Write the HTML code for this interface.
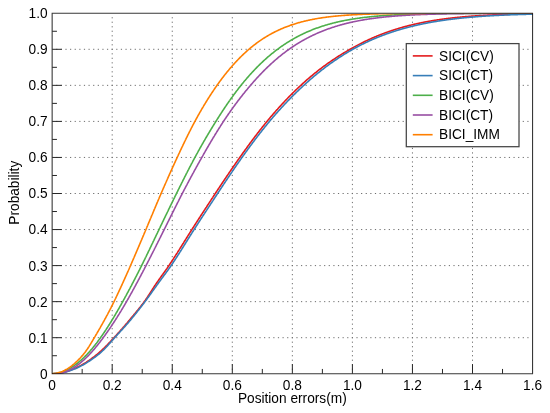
<!DOCTYPE html>
<html><head><meta charset="utf-8"><title>CDF of position errors</title><style>
html,body{margin:0;padding:0;background:#fff;width:550px;height:413px;overflow:hidden}
svg{display:block}
.t text{font-family:"Liberation Sans",Arial,Helvetica,sans-serif;font-size:13.7px;fill:#000}
</style></head><body>
<svg width="550" height="413" viewBox="0 0 550 413"><path d="M112.20 368.64v1.2M112.20 364.14v1.2M112.20 359.63v1.2M112.20 355.12v1.2M112.20 350.62v1.2M112.20 346.11v1.2M112.20 341.61v1.2M112.20 337.10v1.2M112.20 332.59v1.2M112.20 328.09v1.2M112.20 323.58v1.2M112.20 319.07v1.2M112.20 314.57v1.2M112.20 310.06v1.2M112.20 305.56v1.2M112.20 301.05v1.2M112.20 296.54v1.2M112.20 292.04v1.2M112.20 287.53v1.2M112.20 283.02v1.2M112.20 278.52v1.2M112.20 274.01v1.2M112.20 269.51v1.2M112.20 265.00v1.2M112.20 260.49v1.2M112.20 255.99v1.2M112.20 251.48v1.2M112.20 246.97v1.2M112.20 242.47v1.2M112.20 237.96v1.2M112.20 233.46v1.2M112.20 228.95v1.2M112.20 224.44v1.2M112.20 219.94v1.2M112.20 215.43v1.2M112.20 210.92v1.2M112.20 206.42v1.2M112.20 201.91v1.2M112.20 197.41v1.2M112.20 192.90v1.2M112.20 188.39v1.2M112.20 183.89v1.2M112.20 179.38v1.2M112.20 174.87v1.2M112.20 170.37v1.2M112.20 165.86v1.2M112.20 161.36v1.2M112.20 156.85v1.2M112.20 152.34v1.2M112.20 147.84v1.2M112.20 143.33v1.2M112.20 138.82v1.2M112.20 134.32v1.2M112.20 129.81v1.2M112.20 125.31v1.2M112.20 120.80v1.2M112.20 116.29v1.2M112.20 111.79v1.2M112.20 107.28v1.2M112.20 102.77v1.2M112.20 98.27v1.2M112.20 93.76v1.2M112.20 89.26v1.2M112.20 84.75v1.2M112.20 80.24v1.2M112.20 75.74v1.2M112.20 71.23v1.2M112.20 66.72v1.2M112.20 62.22v1.2M112.20 57.71v1.2M112.20 53.21v1.2M112.20 48.70v1.2M112.20 44.19v1.2M112.20 39.69v1.2M112.20 35.18v1.2M112.20 30.67v1.2M112.20 26.17v1.2M112.20 21.66v1.2M112.20 17.16v1.2M172.25 368.64v1.2M172.25 364.14v1.2M172.25 359.63v1.2M172.25 355.12v1.2M172.25 350.62v1.2M172.25 346.11v1.2M172.25 341.61v1.2M172.25 337.10v1.2M172.25 332.59v1.2M172.25 328.09v1.2M172.25 323.58v1.2M172.25 319.07v1.2M172.25 314.57v1.2M172.25 310.06v1.2M172.25 305.56v1.2M172.25 301.05v1.2M172.25 296.54v1.2M172.25 292.04v1.2M172.25 287.53v1.2M172.25 283.02v1.2M172.25 278.52v1.2M172.25 274.01v1.2M172.25 269.51v1.2M172.25 265.00v1.2M172.25 260.49v1.2M172.25 255.99v1.2M172.25 251.48v1.2M172.25 246.97v1.2M172.25 242.47v1.2M172.25 237.96v1.2M172.25 233.46v1.2M172.25 228.95v1.2M172.25 224.44v1.2M172.25 219.94v1.2M172.25 215.43v1.2M172.25 210.92v1.2M172.25 206.42v1.2M172.25 201.91v1.2M172.25 197.41v1.2M172.25 192.90v1.2M172.25 188.39v1.2M172.25 183.89v1.2M172.25 179.38v1.2M172.25 174.87v1.2M172.25 170.37v1.2M172.25 165.86v1.2M172.25 161.36v1.2M172.25 156.85v1.2M172.25 152.34v1.2M172.25 147.84v1.2M172.25 143.33v1.2M172.25 138.82v1.2M172.25 134.32v1.2M172.25 129.81v1.2M172.25 125.31v1.2M172.25 120.80v1.2M172.25 116.29v1.2M172.25 111.79v1.2M172.25 107.28v1.2M172.25 102.77v1.2M172.25 98.27v1.2M172.25 93.76v1.2M172.25 89.26v1.2M172.25 84.75v1.2M172.25 80.24v1.2M172.25 75.74v1.2M172.25 71.23v1.2M172.25 66.72v1.2M172.25 62.22v1.2M172.25 57.71v1.2M172.25 53.21v1.2M172.25 48.70v1.2M172.25 44.19v1.2M172.25 39.69v1.2M172.25 35.18v1.2M172.25 30.67v1.2M172.25 26.17v1.2M172.25 21.66v1.2M172.25 17.16v1.2M232.30 368.64v1.2M232.30 364.14v1.2M232.30 359.63v1.2M232.30 355.12v1.2M232.30 350.62v1.2M232.30 346.11v1.2M232.30 341.61v1.2M232.30 337.10v1.2M232.30 332.59v1.2M232.30 328.09v1.2M232.30 323.58v1.2M232.30 319.07v1.2M232.30 314.57v1.2M232.30 310.06v1.2M232.30 305.56v1.2M232.30 301.05v1.2M232.30 296.54v1.2M232.30 292.04v1.2M232.30 287.53v1.2M232.30 283.02v1.2M232.30 278.52v1.2M232.30 274.01v1.2M232.30 269.51v1.2M232.30 265.00v1.2M232.30 260.49v1.2M232.30 255.99v1.2M232.30 251.48v1.2M232.30 246.97v1.2M232.30 242.47v1.2M232.30 237.96v1.2M232.30 233.46v1.2M232.30 228.95v1.2M232.30 224.44v1.2M232.30 219.94v1.2M232.30 215.43v1.2M232.30 210.92v1.2M232.30 206.42v1.2M232.30 201.91v1.2M232.30 197.41v1.2M232.30 192.90v1.2M232.30 188.39v1.2M232.30 183.89v1.2M232.30 179.38v1.2M232.30 174.87v1.2M232.30 170.37v1.2M232.30 165.86v1.2M232.30 161.36v1.2M232.30 156.85v1.2M232.30 152.34v1.2M232.30 147.84v1.2M232.30 143.33v1.2M232.30 138.82v1.2M232.30 134.32v1.2M232.30 129.81v1.2M232.30 125.31v1.2M232.30 120.80v1.2M232.30 116.29v1.2M232.30 111.79v1.2M232.30 107.28v1.2M232.30 102.77v1.2M232.30 98.27v1.2M232.30 93.76v1.2M232.30 89.26v1.2M232.30 84.75v1.2M232.30 80.24v1.2M232.30 75.74v1.2M232.30 71.23v1.2M232.30 66.72v1.2M232.30 62.22v1.2M232.30 57.71v1.2M232.30 53.21v1.2M232.30 48.70v1.2M232.30 44.19v1.2M232.30 39.69v1.2M232.30 35.18v1.2M232.30 30.67v1.2M232.30 26.17v1.2M232.30 21.66v1.2M232.30 17.16v1.2M292.35 368.64v1.2M292.35 364.14v1.2M292.35 359.63v1.2M292.35 355.12v1.2M292.35 350.62v1.2M292.35 346.11v1.2M292.35 341.61v1.2M292.35 337.10v1.2M292.35 332.59v1.2M292.35 328.09v1.2M292.35 323.58v1.2M292.35 319.07v1.2M292.35 314.57v1.2M292.35 310.06v1.2M292.35 305.56v1.2M292.35 301.05v1.2M292.35 296.54v1.2M292.35 292.04v1.2M292.35 287.53v1.2M292.35 283.02v1.2M292.35 278.52v1.2M292.35 274.01v1.2M292.35 269.51v1.2M292.35 265.00v1.2M292.35 260.49v1.2M292.35 255.99v1.2M292.35 251.48v1.2M292.35 246.97v1.2M292.35 242.47v1.2M292.35 237.96v1.2M292.35 233.46v1.2M292.35 228.95v1.2M292.35 224.44v1.2M292.35 219.94v1.2M292.35 215.43v1.2M292.35 210.92v1.2M292.35 206.42v1.2M292.35 201.91v1.2M292.35 197.41v1.2M292.35 192.90v1.2M292.35 188.39v1.2M292.35 183.89v1.2M292.35 179.38v1.2M292.35 174.87v1.2M292.35 170.37v1.2M292.35 165.86v1.2M292.35 161.36v1.2M292.35 156.85v1.2M292.35 152.34v1.2M292.35 147.84v1.2M292.35 143.33v1.2M292.35 138.82v1.2M292.35 134.32v1.2M292.35 129.81v1.2M292.35 125.31v1.2M292.35 120.80v1.2M292.35 116.29v1.2M292.35 111.79v1.2M292.35 107.28v1.2M292.35 102.77v1.2M292.35 98.27v1.2M292.35 93.76v1.2M292.35 89.26v1.2M292.35 84.75v1.2M292.35 80.24v1.2M292.35 75.74v1.2M292.35 71.23v1.2M292.35 66.72v1.2M292.35 62.22v1.2M292.35 57.71v1.2M292.35 53.21v1.2M292.35 48.70v1.2M292.35 44.19v1.2M292.35 39.69v1.2M292.35 35.18v1.2M292.35 30.67v1.2M292.35 26.17v1.2M292.35 21.66v1.2M292.35 17.16v1.2M352.40 368.64v1.2M352.40 364.14v1.2M352.40 359.63v1.2M352.40 355.12v1.2M352.40 350.62v1.2M352.40 346.11v1.2M352.40 341.61v1.2M352.40 337.10v1.2M352.40 332.59v1.2M352.40 328.09v1.2M352.40 323.58v1.2M352.40 319.07v1.2M352.40 314.57v1.2M352.40 310.06v1.2M352.40 305.56v1.2M352.40 301.05v1.2M352.40 296.54v1.2M352.40 292.04v1.2M352.40 287.53v1.2M352.40 283.02v1.2M352.40 278.52v1.2M352.40 274.01v1.2M352.40 269.51v1.2M352.40 265.00v1.2M352.40 260.49v1.2M352.40 255.99v1.2M352.40 251.48v1.2M352.40 246.97v1.2M352.40 242.47v1.2M352.40 237.96v1.2M352.40 233.46v1.2M352.40 228.95v1.2M352.40 224.44v1.2M352.40 219.94v1.2M352.40 215.43v1.2M352.40 210.92v1.2M352.40 206.42v1.2M352.40 201.91v1.2M352.40 197.41v1.2M352.40 192.90v1.2M352.40 188.39v1.2M352.40 183.89v1.2M352.40 179.38v1.2M352.40 174.87v1.2M352.40 170.37v1.2M352.40 165.86v1.2M352.40 161.36v1.2M352.40 156.85v1.2M352.40 152.34v1.2M352.40 147.84v1.2M352.40 143.33v1.2M352.40 138.82v1.2M352.40 134.32v1.2M352.40 129.81v1.2M352.40 125.31v1.2M352.40 120.80v1.2M352.40 116.29v1.2M352.40 111.79v1.2M352.40 107.28v1.2M352.40 102.77v1.2M352.40 98.27v1.2M352.40 93.76v1.2M352.40 89.26v1.2M352.40 84.75v1.2M352.40 80.24v1.2M352.40 75.74v1.2M352.40 71.23v1.2M352.40 66.72v1.2M352.40 62.22v1.2M352.40 57.71v1.2M352.40 53.21v1.2M352.40 48.70v1.2M352.40 44.19v1.2M352.40 39.69v1.2M352.40 35.18v1.2M352.40 30.67v1.2M352.40 26.17v1.2M352.40 21.66v1.2M352.40 17.16v1.2M412.45 368.64v1.2M412.45 364.14v1.2M412.45 359.63v1.2M412.45 355.12v1.2M412.45 350.62v1.2M412.45 346.11v1.2M412.45 341.61v1.2M412.45 337.10v1.2M412.45 332.59v1.2M412.45 328.09v1.2M412.45 323.58v1.2M412.45 319.07v1.2M412.45 314.57v1.2M412.45 310.06v1.2M412.45 305.56v1.2M412.45 301.05v1.2M412.45 296.54v1.2M412.45 292.04v1.2M412.45 287.53v1.2M412.45 283.02v1.2M412.45 278.52v1.2M412.45 274.01v1.2M412.45 269.51v1.2M412.45 265.00v1.2M412.45 260.49v1.2M412.45 255.99v1.2M412.45 251.48v1.2M412.45 246.97v1.2M412.45 242.47v1.2M412.45 237.96v1.2M412.45 233.46v1.2M412.45 228.95v1.2M412.45 224.44v1.2M412.45 219.94v1.2M412.45 215.43v1.2M412.45 210.92v1.2M412.45 206.42v1.2M412.45 201.91v1.2M412.45 197.41v1.2M412.45 192.90v1.2M412.45 188.39v1.2M412.45 183.89v1.2M412.45 179.38v1.2M412.45 174.87v1.2M412.45 170.37v1.2M412.45 165.86v1.2M412.45 161.36v1.2M412.45 156.85v1.2M412.45 152.34v1.2M412.45 147.84v1.2M412.45 143.33v1.2M412.45 138.82v1.2M412.45 134.32v1.2M412.45 129.81v1.2M412.45 125.31v1.2M412.45 120.80v1.2M412.45 116.29v1.2M412.45 111.79v1.2M412.45 107.28v1.2M412.45 102.77v1.2M412.45 98.27v1.2M412.45 93.76v1.2M412.45 89.26v1.2M412.45 84.75v1.2M412.45 80.24v1.2M412.45 75.74v1.2M412.45 71.23v1.2M412.45 66.72v1.2M412.45 62.22v1.2M412.45 57.71v1.2M412.45 53.21v1.2M412.45 48.70v1.2M412.45 44.19v1.2M412.45 39.69v1.2M412.45 35.18v1.2M412.45 30.67v1.2M412.45 26.17v1.2M412.45 21.66v1.2M412.45 17.16v1.2M472.50 368.64v1.2M472.50 364.14v1.2M472.50 359.63v1.2M472.50 355.12v1.2M472.50 350.62v1.2M472.50 346.11v1.2M472.50 341.61v1.2M472.50 337.10v1.2M472.50 332.59v1.2M472.50 328.09v1.2M472.50 323.58v1.2M472.50 319.07v1.2M472.50 314.57v1.2M472.50 310.06v1.2M472.50 305.56v1.2M472.50 301.05v1.2M472.50 296.54v1.2M472.50 292.04v1.2M472.50 287.53v1.2M472.50 283.02v1.2M472.50 278.52v1.2M472.50 274.01v1.2M472.50 269.51v1.2M472.50 265.00v1.2M472.50 260.49v1.2M472.50 255.99v1.2M472.50 251.48v1.2M472.50 246.97v1.2M472.50 242.47v1.2M472.50 237.96v1.2M472.50 233.46v1.2M472.50 228.95v1.2M472.50 224.44v1.2M472.50 219.94v1.2M472.50 215.43v1.2M472.50 210.92v1.2M472.50 206.42v1.2M472.50 201.91v1.2M472.50 197.41v1.2M472.50 192.90v1.2M472.50 188.39v1.2M472.50 183.89v1.2M472.50 179.38v1.2M472.50 174.87v1.2M472.50 170.37v1.2M472.50 165.86v1.2M472.50 161.36v1.2M472.50 156.85v1.2M472.50 152.34v1.2M472.50 147.84v1.2M472.50 143.33v1.2M472.50 138.82v1.2M472.50 134.32v1.2M472.50 129.81v1.2M472.50 125.31v1.2M472.50 120.80v1.2M472.50 116.29v1.2M472.50 111.79v1.2M472.50 107.28v1.2M472.50 102.77v1.2M472.50 98.27v1.2M472.50 93.76v1.2M472.50 89.26v1.2M472.50 84.75v1.2M472.50 80.24v1.2M472.50 75.74v1.2M472.50 71.23v1.2M472.50 66.72v1.2M472.50 62.22v1.2M472.50 57.71v1.2M472.50 53.21v1.2M472.50 48.70v1.2M472.50 44.19v1.2M472.50 39.69v1.2M472.50 35.18v1.2M472.50 30.67v1.2M472.50 26.17v1.2M472.50 21.66v1.2M472.50 17.16v1.2M56.17 337.70h1.2M60.79 337.70h1.2M65.41 337.70h1.2M70.03 337.70h1.2M74.65 337.70h1.2M79.27 337.70h1.2M83.88 337.70h1.2M88.50 337.70h1.2M93.12 337.70h1.2M97.74 337.70h1.2M102.36 337.70h1.2M106.98 337.70h1.2M111.60 337.70h1.2M116.22 337.70h1.2M120.84 337.70h1.2M125.46 337.70h1.2M130.08 337.70h1.2M134.70 337.70h1.2M139.32 337.70h1.2M143.93 337.70h1.2M148.55 337.70h1.2M153.17 337.70h1.2M157.79 337.70h1.2M162.41 337.70h1.2M167.03 337.70h1.2M171.65 337.70h1.2M176.27 337.70h1.2M180.89 337.70h1.2M185.51 337.70h1.2M190.13 337.70h1.2M194.75 337.70h1.2M199.37 337.70h1.2M203.98 337.70h1.2M208.60 337.70h1.2M213.22 337.70h1.2M217.84 337.70h1.2M222.46 337.70h1.2M227.08 337.70h1.2M231.70 337.70h1.2M236.32 337.70h1.2M240.94 337.70h1.2M245.56 337.70h1.2M250.18 337.70h1.2M254.80 337.70h1.2M259.42 337.70h1.2M264.03 337.70h1.2M268.65 337.70h1.2M273.27 337.70h1.2M277.89 337.70h1.2M282.51 337.70h1.2M287.13 337.70h1.2M291.75 337.70h1.2M296.37 337.70h1.2M300.99 337.70h1.2M305.61 337.70h1.2M310.23 337.70h1.2M314.85 337.70h1.2M319.47 337.70h1.2M324.08 337.70h1.2M328.70 337.70h1.2M333.32 337.70h1.2M337.94 337.70h1.2M342.56 337.70h1.2M347.18 337.70h1.2M351.80 337.70h1.2M356.42 337.70h1.2M361.04 337.70h1.2M365.66 337.70h1.2M370.28 337.70h1.2M374.90 337.70h1.2M379.52 337.70h1.2M384.13 337.70h1.2M388.75 337.70h1.2M393.37 337.70h1.2M397.99 337.70h1.2M402.61 337.70h1.2M407.23 337.70h1.2M411.85 337.70h1.2M416.47 337.70h1.2M421.09 337.70h1.2M425.71 337.70h1.2M430.33 337.70h1.2M434.95 337.70h1.2M439.57 337.70h1.2M444.18 337.70h1.2M448.80 337.70h1.2M453.42 337.70h1.2M458.04 337.70h1.2M462.66 337.70h1.2M467.28 337.70h1.2M471.90 337.70h1.2M476.52 337.70h1.2M481.14 337.70h1.2M485.76 337.70h1.2M490.38 337.70h1.2M495.00 337.70h1.2M499.62 337.70h1.2M504.23 337.70h1.2M508.85 337.70h1.2M513.47 337.70h1.2M518.09 337.70h1.2M522.71 337.70h1.2M527.33 337.70h1.2M56.17 301.65h1.2M60.79 301.65h1.2M65.41 301.65h1.2M70.03 301.65h1.2M74.65 301.65h1.2M79.27 301.65h1.2M83.88 301.65h1.2M88.50 301.65h1.2M93.12 301.65h1.2M97.74 301.65h1.2M102.36 301.65h1.2M106.98 301.65h1.2M111.60 301.65h1.2M116.22 301.65h1.2M120.84 301.65h1.2M125.46 301.65h1.2M130.08 301.65h1.2M134.70 301.65h1.2M139.32 301.65h1.2M143.93 301.65h1.2M148.55 301.65h1.2M153.17 301.65h1.2M157.79 301.65h1.2M162.41 301.65h1.2M167.03 301.65h1.2M171.65 301.65h1.2M176.27 301.65h1.2M180.89 301.65h1.2M185.51 301.65h1.2M190.13 301.65h1.2M194.75 301.65h1.2M199.37 301.65h1.2M203.98 301.65h1.2M208.60 301.65h1.2M213.22 301.65h1.2M217.84 301.65h1.2M222.46 301.65h1.2M227.08 301.65h1.2M231.70 301.65h1.2M236.32 301.65h1.2M240.94 301.65h1.2M245.56 301.65h1.2M250.18 301.65h1.2M254.80 301.65h1.2M259.42 301.65h1.2M264.03 301.65h1.2M268.65 301.65h1.2M273.27 301.65h1.2M277.89 301.65h1.2M282.51 301.65h1.2M287.13 301.65h1.2M291.75 301.65h1.2M296.37 301.65h1.2M300.99 301.65h1.2M305.61 301.65h1.2M310.23 301.65h1.2M314.85 301.65h1.2M319.47 301.65h1.2M324.08 301.65h1.2M328.70 301.65h1.2M333.32 301.65h1.2M337.94 301.65h1.2M342.56 301.65h1.2M347.18 301.65h1.2M351.80 301.65h1.2M356.42 301.65h1.2M361.04 301.65h1.2M365.66 301.65h1.2M370.28 301.65h1.2M374.90 301.65h1.2M379.52 301.65h1.2M384.13 301.65h1.2M388.75 301.65h1.2M393.37 301.65h1.2M397.99 301.65h1.2M402.61 301.65h1.2M407.23 301.65h1.2M411.85 301.65h1.2M416.47 301.65h1.2M421.09 301.65h1.2M425.71 301.65h1.2M430.33 301.65h1.2M434.95 301.65h1.2M439.57 301.65h1.2M444.18 301.65h1.2M448.80 301.65h1.2M453.42 301.65h1.2M458.04 301.65h1.2M462.66 301.65h1.2M467.28 301.65h1.2M471.90 301.65h1.2M476.52 301.65h1.2M481.14 301.65h1.2M485.76 301.65h1.2M490.38 301.65h1.2M495.00 301.65h1.2M499.62 301.65h1.2M504.23 301.65h1.2M508.85 301.65h1.2M513.47 301.65h1.2M518.09 301.65h1.2M522.71 301.65h1.2M527.33 301.65h1.2M56.17 265.60h1.2M60.79 265.60h1.2M65.41 265.60h1.2M70.03 265.60h1.2M74.65 265.60h1.2M79.27 265.60h1.2M83.88 265.60h1.2M88.50 265.60h1.2M93.12 265.60h1.2M97.74 265.60h1.2M102.36 265.60h1.2M106.98 265.60h1.2M111.60 265.60h1.2M116.22 265.60h1.2M120.84 265.60h1.2M125.46 265.60h1.2M130.08 265.60h1.2M134.70 265.60h1.2M139.32 265.60h1.2M143.93 265.60h1.2M148.55 265.60h1.2M153.17 265.60h1.2M157.79 265.60h1.2M162.41 265.60h1.2M167.03 265.60h1.2M171.65 265.60h1.2M176.27 265.60h1.2M180.89 265.60h1.2M185.51 265.60h1.2M190.13 265.60h1.2M194.75 265.60h1.2M199.37 265.60h1.2M203.98 265.60h1.2M208.60 265.60h1.2M213.22 265.60h1.2M217.84 265.60h1.2M222.46 265.60h1.2M227.08 265.60h1.2M231.70 265.60h1.2M236.32 265.60h1.2M240.94 265.60h1.2M245.56 265.60h1.2M250.18 265.60h1.2M254.80 265.60h1.2M259.42 265.60h1.2M264.03 265.60h1.2M268.65 265.60h1.2M273.27 265.60h1.2M277.89 265.60h1.2M282.51 265.60h1.2M287.13 265.60h1.2M291.75 265.60h1.2M296.37 265.60h1.2M300.99 265.60h1.2M305.61 265.60h1.2M310.23 265.60h1.2M314.85 265.60h1.2M319.47 265.60h1.2M324.08 265.60h1.2M328.70 265.60h1.2M333.32 265.60h1.2M337.94 265.60h1.2M342.56 265.60h1.2M347.18 265.60h1.2M351.80 265.60h1.2M356.42 265.60h1.2M361.04 265.60h1.2M365.66 265.60h1.2M370.28 265.60h1.2M374.90 265.60h1.2M379.52 265.60h1.2M384.13 265.60h1.2M388.75 265.60h1.2M393.37 265.60h1.2M397.99 265.60h1.2M402.61 265.60h1.2M407.23 265.60h1.2M411.85 265.60h1.2M416.47 265.60h1.2M421.09 265.60h1.2M425.71 265.60h1.2M430.33 265.60h1.2M434.95 265.60h1.2M439.57 265.60h1.2M444.18 265.60h1.2M448.80 265.60h1.2M453.42 265.60h1.2M458.04 265.60h1.2M462.66 265.60h1.2M467.28 265.60h1.2M471.90 265.60h1.2M476.52 265.60h1.2M481.14 265.60h1.2M485.76 265.60h1.2M490.38 265.60h1.2M495.00 265.60h1.2M499.62 265.60h1.2M504.23 265.60h1.2M508.85 265.60h1.2M513.47 265.60h1.2M518.09 265.60h1.2M522.71 265.60h1.2M527.33 265.60h1.2M56.17 229.55h1.2M60.79 229.55h1.2M65.41 229.55h1.2M70.03 229.55h1.2M74.65 229.55h1.2M79.27 229.55h1.2M83.88 229.55h1.2M88.50 229.55h1.2M93.12 229.55h1.2M97.74 229.55h1.2M102.36 229.55h1.2M106.98 229.55h1.2M111.60 229.55h1.2M116.22 229.55h1.2M120.84 229.55h1.2M125.46 229.55h1.2M130.08 229.55h1.2M134.70 229.55h1.2M139.32 229.55h1.2M143.93 229.55h1.2M148.55 229.55h1.2M153.17 229.55h1.2M157.79 229.55h1.2M162.41 229.55h1.2M167.03 229.55h1.2M171.65 229.55h1.2M176.27 229.55h1.2M180.89 229.55h1.2M185.51 229.55h1.2M190.13 229.55h1.2M194.75 229.55h1.2M199.37 229.55h1.2M203.98 229.55h1.2M208.60 229.55h1.2M213.22 229.55h1.2M217.84 229.55h1.2M222.46 229.55h1.2M227.08 229.55h1.2M231.70 229.55h1.2M236.32 229.55h1.2M240.94 229.55h1.2M245.56 229.55h1.2M250.18 229.55h1.2M254.80 229.55h1.2M259.42 229.55h1.2M264.03 229.55h1.2M268.65 229.55h1.2M273.27 229.55h1.2M277.89 229.55h1.2M282.51 229.55h1.2M287.13 229.55h1.2M291.75 229.55h1.2M296.37 229.55h1.2M300.99 229.55h1.2M305.61 229.55h1.2M310.23 229.55h1.2M314.85 229.55h1.2M319.47 229.55h1.2M324.08 229.55h1.2M328.70 229.55h1.2M333.32 229.55h1.2M337.94 229.55h1.2M342.56 229.55h1.2M347.18 229.55h1.2M351.80 229.55h1.2M356.42 229.55h1.2M361.04 229.55h1.2M365.66 229.55h1.2M370.28 229.55h1.2M374.90 229.55h1.2M379.52 229.55h1.2M384.13 229.55h1.2M388.75 229.55h1.2M393.37 229.55h1.2M397.99 229.55h1.2M402.61 229.55h1.2M407.23 229.55h1.2M411.85 229.55h1.2M416.47 229.55h1.2M421.09 229.55h1.2M425.71 229.55h1.2M430.33 229.55h1.2M434.95 229.55h1.2M439.57 229.55h1.2M444.18 229.55h1.2M448.80 229.55h1.2M453.42 229.55h1.2M458.04 229.55h1.2M462.66 229.55h1.2M467.28 229.55h1.2M471.90 229.55h1.2M476.52 229.55h1.2M481.14 229.55h1.2M485.76 229.55h1.2M490.38 229.55h1.2M495.00 229.55h1.2M499.62 229.55h1.2M504.23 229.55h1.2M508.85 229.55h1.2M513.47 229.55h1.2M518.09 229.55h1.2M522.71 229.55h1.2M527.33 229.55h1.2M56.17 193.50h1.2M60.79 193.50h1.2M65.41 193.50h1.2M70.03 193.50h1.2M74.65 193.50h1.2M79.27 193.50h1.2M83.88 193.50h1.2M88.50 193.50h1.2M93.12 193.50h1.2M97.74 193.50h1.2M102.36 193.50h1.2M106.98 193.50h1.2M111.60 193.50h1.2M116.22 193.50h1.2M120.84 193.50h1.2M125.46 193.50h1.2M130.08 193.50h1.2M134.70 193.50h1.2M139.32 193.50h1.2M143.93 193.50h1.2M148.55 193.50h1.2M153.17 193.50h1.2M157.79 193.50h1.2M162.41 193.50h1.2M167.03 193.50h1.2M171.65 193.50h1.2M176.27 193.50h1.2M180.89 193.50h1.2M185.51 193.50h1.2M190.13 193.50h1.2M194.75 193.50h1.2M199.37 193.50h1.2M203.98 193.50h1.2M208.60 193.50h1.2M213.22 193.50h1.2M217.84 193.50h1.2M222.46 193.50h1.2M227.08 193.50h1.2M231.70 193.50h1.2M236.32 193.50h1.2M240.94 193.50h1.2M245.56 193.50h1.2M250.18 193.50h1.2M254.80 193.50h1.2M259.42 193.50h1.2M264.03 193.50h1.2M268.65 193.50h1.2M273.27 193.50h1.2M277.89 193.50h1.2M282.51 193.50h1.2M287.13 193.50h1.2M291.75 193.50h1.2M296.37 193.50h1.2M300.99 193.50h1.2M305.61 193.50h1.2M310.23 193.50h1.2M314.85 193.50h1.2M319.47 193.50h1.2M324.08 193.50h1.2M328.70 193.50h1.2M333.32 193.50h1.2M337.94 193.50h1.2M342.56 193.50h1.2M347.18 193.50h1.2M351.80 193.50h1.2M356.42 193.50h1.2M361.04 193.50h1.2M365.66 193.50h1.2M370.28 193.50h1.2M374.90 193.50h1.2M379.52 193.50h1.2M384.13 193.50h1.2M388.75 193.50h1.2M393.37 193.50h1.2M397.99 193.50h1.2M402.61 193.50h1.2M407.23 193.50h1.2M411.85 193.50h1.2M416.47 193.50h1.2M421.09 193.50h1.2M425.71 193.50h1.2M430.33 193.50h1.2M434.95 193.50h1.2M439.57 193.50h1.2M444.18 193.50h1.2M448.80 193.50h1.2M453.42 193.50h1.2M458.04 193.50h1.2M462.66 193.50h1.2M467.28 193.50h1.2M471.90 193.50h1.2M476.52 193.50h1.2M481.14 193.50h1.2M485.76 193.50h1.2M490.38 193.50h1.2M495.00 193.50h1.2M499.62 193.50h1.2M504.23 193.50h1.2M508.85 193.50h1.2M513.47 193.50h1.2M518.09 193.50h1.2M522.71 193.50h1.2M527.33 193.50h1.2M56.17 157.45h1.2M60.79 157.45h1.2M65.41 157.45h1.2M70.03 157.45h1.2M74.65 157.45h1.2M79.27 157.45h1.2M83.88 157.45h1.2M88.50 157.45h1.2M93.12 157.45h1.2M97.74 157.45h1.2M102.36 157.45h1.2M106.98 157.45h1.2M111.60 157.45h1.2M116.22 157.45h1.2M120.84 157.45h1.2M125.46 157.45h1.2M130.08 157.45h1.2M134.70 157.45h1.2M139.32 157.45h1.2M143.93 157.45h1.2M148.55 157.45h1.2M153.17 157.45h1.2M157.79 157.45h1.2M162.41 157.45h1.2M167.03 157.45h1.2M171.65 157.45h1.2M176.27 157.45h1.2M180.89 157.45h1.2M185.51 157.45h1.2M190.13 157.45h1.2M194.75 157.45h1.2M199.37 157.45h1.2M203.98 157.45h1.2M208.60 157.45h1.2M213.22 157.45h1.2M217.84 157.45h1.2M222.46 157.45h1.2M227.08 157.45h1.2M231.70 157.45h1.2M236.32 157.45h1.2M240.94 157.45h1.2M245.56 157.45h1.2M250.18 157.45h1.2M254.80 157.45h1.2M259.42 157.45h1.2M264.03 157.45h1.2M268.65 157.45h1.2M273.27 157.45h1.2M277.89 157.45h1.2M282.51 157.45h1.2M287.13 157.45h1.2M291.75 157.45h1.2M296.37 157.45h1.2M300.99 157.45h1.2M305.61 157.45h1.2M310.23 157.45h1.2M314.85 157.45h1.2M319.47 157.45h1.2M324.08 157.45h1.2M328.70 157.45h1.2M333.32 157.45h1.2M337.94 157.45h1.2M342.56 157.45h1.2M347.18 157.45h1.2M351.80 157.45h1.2M356.42 157.45h1.2M361.04 157.45h1.2M365.66 157.45h1.2M370.28 157.45h1.2M374.90 157.45h1.2M379.52 157.45h1.2M384.13 157.45h1.2M388.75 157.45h1.2M393.37 157.45h1.2M397.99 157.45h1.2M402.61 157.45h1.2M407.23 157.45h1.2M411.85 157.45h1.2M416.47 157.45h1.2M421.09 157.45h1.2M425.71 157.45h1.2M430.33 157.45h1.2M434.95 157.45h1.2M439.57 157.45h1.2M444.18 157.45h1.2M448.80 157.45h1.2M453.42 157.45h1.2M458.04 157.45h1.2M462.66 157.45h1.2M467.28 157.45h1.2M471.90 157.45h1.2M476.52 157.45h1.2M481.14 157.45h1.2M485.76 157.45h1.2M490.38 157.45h1.2M495.00 157.45h1.2M499.62 157.45h1.2M504.23 157.45h1.2M508.85 157.45h1.2M513.47 157.45h1.2M518.09 157.45h1.2M522.71 157.45h1.2M527.33 157.45h1.2M56.17 121.40h1.2M60.79 121.40h1.2M65.41 121.40h1.2M70.03 121.40h1.2M74.65 121.40h1.2M79.27 121.40h1.2M83.88 121.40h1.2M88.50 121.40h1.2M93.12 121.40h1.2M97.74 121.40h1.2M102.36 121.40h1.2M106.98 121.40h1.2M111.60 121.40h1.2M116.22 121.40h1.2M120.84 121.40h1.2M125.46 121.40h1.2M130.08 121.40h1.2M134.70 121.40h1.2M139.32 121.40h1.2M143.93 121.40h1.2M148.55 121.40h1.2M153.17 121.40h1.2M157.79 121.40h1.2M162.41 121.40h1.2M167.03 121.40h1.2M171.65 121.40h1.2M176.27 121.40h1.2M180.89 121.40h1.2M185.51 121.40h1.2M190.13 121.40h1.2M194.75 121.40h1.2M199.37 121.40h1.2M203.98 121.40h1.2M208.60 121.40h1.2M213.22 121.40h1.2M217.84 121.40h1.2M222.46 121.40h1.2M227.08 121.40h1.2M231.70 121.40h1.2M236.32 121.40h1.2M240.94 121.40h1.2M245.56 121.40h1.2M250.18 121.40h1.2M254.80 121.40h1.2M259.42 121.40h1.2M264.03 121.40h1.2M268.65 121.40h1.2M273.27 121.40h1.2M277.89 121.40h1.2M282.51 121.40h1.2M287.13 121.40h1.2M291.75 121.40h1.2M296.37 121.40h1.2M300.99 121.40h1.2M305.61 121.40h1.2M310.23 121.40h1.2M314.85 121.40h1.2M319.47 121.40h1.2M324.08 121.40h1.2M328.70 121.40h1.2M333.32 121.40h1.2M337.94 121.40h1.2M342.56 121.40h1.2M347.18 121.40h1.2M351.80 121.40h1.2M356.42 121.40h1.2M361.04 121.40h1.2M365.66 121.40h1.2M370.28 121.40h1.2M374.90 121.40h1.2M379.52 121.40h1.2M384.13 121.40h1.2M388.75 121.40h1.2M393.37 121.40h1.2M397.99 121.40h1.2M402.61 121.40h1.2M407.23 121.40h1.2M411.85 121.40h1.2M416.47 121.40h1.2M421.09 121.40h1.2M425.71 121.40h1.2M430.33 121.40h1.2M434.95 121.40h1.2M439.57 121.40h1.2M444.18 121.40h1.2M448.80 121.40h1.2M453.42 121.40h1.2M458.04 121.40h1.2M462.66 121.40h1.2M467.28 121.40h1.2M471.90 121.40h1.2M476.52 121.40h1.2M481.14 121.40h1.2M485.76 121.40h1.2M490.38 121.40h1.2M495.00 121.40h1.2M499.62 121.40h1.2M504.23 121.40h1.2M508.85 121.40h1.2M513.47 121.40h1.2M518.09 121.40h1.2M522.71 121.40h1.2M527.33 121.40h1.2M56.17 85.35h1.2M60.79 85.35h1.2M65.41 85.35h1.2M70.03 85.35h1.2M74.65 85.35h1.2M79.27 85.35h1.2M83.88 85.35h1.2M88.50 85.35h1.2M93.12 85.35h1.2M97.74 85.35h1.2M102.36 85.35h1.2M106.98 85.35h1.2M111.60 85.35h1.2M116.22 85.35h1.2M120.84 85.35h1.2M125.46 85.35h1.2M130.08 85.35h1.2M134.70 85.35h1.2M139.32 85.35h1.2M143.93 85.35h1.2M148.55 85.35h1.2M153.17 85.35h1.2M157.79 85.35h1.2M162.41 85.35h1.2M167.03 85.35h1.2M171.65 85.35h1.2M176.27 85.35h1.2M180.89 85.35h1.2M185.51 85.35h1.2M190.13 85.35h1.2M194.75 85.35h1.2M199.37 85.35h1.2M203.98 85.35h1.2M208.60 85.35h1.2M213.22 85.35h1.2M217.84 85.35h1.2M222.46 85.35h1.2M227.08 85.35h1.2M231.70 85.35h1.2M236.32 85.35h1.2M240.94 85.35h1.2M245.56 85.35h1.2M250.18 85.35h1.2M254.80 85.35h1.2M259.42 85.35h1.2M264.03 85.35h1.2M268.65 85.35h1.2M273.27 85.35h1.2M277.89 85.35h1.2M282.51 85.35h1.2M287.13 85.35h1.2M291.75 85.35h1.2M296.37 85.35h1.2M300.99 85.35h1.2M305.61 85.35h1.2M310.23 85.35h1.2M314.85 85.35h1.2M319.47 85.35h1.2M324.08 85.35h1.2M328.70 85.35h1.2M333.32 85.35h1.2M337.94 85.35h1.2M342.56 85.35h1.2M347.18 85.35h1.2M351.80 85.35h1.2M356.42 85.35h1.2M361.04 85.35h1.2M365.66 85.35h1.2M370.28 85.35h1.2M374.90 85.35h1.2M379.52 85.35h1.2M384.13 85.35h1.2M388.75 85.35h1.2M393.37 85.35h1.2M397.99 85.35h1.2M402.61 85.35h1.2M407.23 85.35h1.2M411.85 85.35h1.2M416.47 85.35h1.2M421.09 85.35h1.2M425.71 85.35h1.2M430.33 85.35h1.2M434.95 85.35h1.2M439.57 85.35h1.2M444.18 85.35h1.2M448.80 85.35h1.2M453.42 85.35h1.2M458.04 85.35h1.2M462.66 85.35h1.2M467.28 85.35h1.2M471.90 85.35h1.2M476.52 85.35h1.2M481.14 85.35h1.2M485.76 85.35h1.2M490.38 85.35h1.2M495.00 85.35h1.2M499.62 85.35h1.2M504.23 85.35h1.2M508.85 85.35h1.2M513.47 85.35h1.2M518.09 85.35h1.2M522.71 85.35h1.2M527.33 85.35h1.2M56.17 49.30h1.2M60.79 49.30h1.2M65.41 49.30h1.2M70.03 49.30h1.2M74.65 49.30h1.2M79.27 49.30h1.2M83.88 49.30h1.2M88.50 49.30h1.2M93.12 49.30h1.2M97.74 49.30h1.2M102.36 49.30h1.2M106.98 49.30h1.2M111.60 49.30h1.2M116.22 49.30h1.2M120.84 49.30h1.2M125.46 49.30h1.2M130.08 49.30h1.2M134.70 49.30h1.2M139.32 49.30h1.2M143.93 49.30h1.2M148.55 49.30h1.2M153.17 49.30h1.2M157.79 49.30h1.2M162.41 49.30h1.2M167.03 49.30h1.2M171.65 49.30h1.2M176.27 49.30h1.2M180.89 49.30h1.2M185.51 49.30h1.2M190.13 49.30h1.2M194.75 49.30h1.2M199.37 49.30h1.2M203.98 49.30h1.2M208.60 49.30h1.2M213.22 49.30h1.2M217.84 49.30h1.2M222.46 49.30h1.2M227.08 49.30h1.2M231.70 49.30h1.2M236.32 49.30h1.2M240.94 49.30h1.2M245.56 49.30h1.2M250.18 49.30h1.2M254.80 49.30h1.2M259.42 49.30h1.2M264.03 49.30h1.2M268.65 49.30h1.2M273.27 49.30h1.2M277.89 49.30h1.2M282.51 49.30h1.2M287.13 49.30h1.2M291.75 49.30h1.2M296.37 49.30h1.2M300.99 49.30h1.2M305.61 49.30h1.2M310.23 49.30h1.2M314.85 49.30h1.2M319.47 49.30h1.2M324.08 49.30h1.2M328.70 49.30h1.2M333.32 49.30h1.2M337.94 49.30h1.2M342.56 49.30h1.2M347.18 49.30h1.2M351.80 49.30h1.2M356.42 49.30h1.2M361.04 49.30h1.2M365.66 49.30h1.2M370.28 49.30h1.2M374.90 49.30h1.2M379.52 49.30h1.2M384.13 49.30h1.2M388.75 49.30h1.2M393.37 49.30h1.2M397.99 49.30h1.2M402.61 49.30h1.2M407.23 49.30h1.2M411.85 49.30h1.2M416.47 49.30h1.2M421.09 49.30h1.2M425.71 49.30h1.2M430.33 49.30h1.2M434.95 49.30h1.2M439.57 49.30h1.2M444.18 49.30h1.2M448.80 49.30h1.2M453.42 49.30h1.2M458.04 49.30h1.2M462.66 49.30h1.2M467.28 49.30h1.2M471.90 49.30h1.2M476.52 49.30h1.2M481.14 49.30h1.2M485.76 49.30h1.2M490.38 49.30h1.2M495.00 49.30h1.2M499.62 49.30h1.2M504.23 49.30h1.2M508.85 49.30h1.2M513.47 49.30h1.2M518.09 49.30h1.2M522.71 49.30h1.2M527.33 49.30h1.2" stroke="#6e6e6e" stroke-width="1" fill="none"/>
<clipPath id="cp"><rect x="52.15" y="13.65" width="480.40" height="360.10"/></clipPath>
<g clip-path="url(#cp)" fill="none" stroke-width="1.6" stroke-linejoin="round">
<polyline points="50.15,373.75 52.15,373.75 58.06,373.29 60.96,372.82 63.18,372.36 65.06,371.89 66.72,371.43 68.22,370.97 69.60,370.50 70.89,370.04 72.10,369.57 73.25,369.11 74.34,368.64 75.39,368.18 76.39,367.72 77.36,367.25 78.29,366.79 79.20,366.32 80.08,365.86 80.93,365.40 81.76,364.93 82.57,364.47 83.37,364.00 84.14,363.54 84.90,363.07 85.64,362.61 86.37,362.15 87.08,361.68 87.78,361.22 88.47,360.75 89.15,360.29 89.82,359.83 90.48,359.36 91.14,358.90 91.78,358.43 92.41,357.97 93.04,357.50 93.65,357.04 94.26,356.58 94.86,356.11 95.45,355.65 96.04,355.18 96.61,354.72 97.18,354.26 97.74,353.79 98.29,353.33 98.84,352.86 99.38,352.40 99.91,351.93 100.43,351.47 100.95,351.01 101.46,350.54 101.96,350.08 102.45,349.61 102.95,349.15 103.43,348.69 103.91,348.22 104.39,347.76 104.86,347.29 105.32,346.83 105.79,346.36 106.25,345.90 106.70,345.44 107.16,344.97 107.61,344.51 108.05,344.04 108.50,343.58 108.94,343.12 109.38,342.65 109.82,342.19 110.26,341.72 110.69,341.26 111.13,340.79 111.56,340.33 111.99,339.87 112.42,339.40 112.85,338.94 113.28,338.47 113.71,338.01 114.14,337.55 114.57,337.08 115.00,336.62 115.42,336.15 115.85,335.69 116.27,335.22 116.69,334.76 117.11,334.30 117.53,333.83 117.95,333.37 118.37,332.90 118.79,332.44 119.20,331.98 119.61,331.51 120.03,331.05 120.44,330.58 120.85,330.12 121.26,329.65 121.67,329.19 122.08,328.73 122.48,328.26 122.89,327.80 123.29,327.33 123.69,326.87 124.10,326.41 124.50,325.94 124.90,325.48 125.29,325.01 125.69,324.55 126.09,324.08 126.48,323.62 126.88,323.16 127.27,322.69 127.66,322.23 128.05,321.76 128.44,321.30 128.83,320.84 129.22,320.37 129.61,319.91 129.99,319.44 130.38,318.98 130.77,318.51 131.15,318.05 131.54,317.59 131.93,317.12 132.32,316.66 132.71,316.19 133.10,315.73 133.49,315.27 133.87,314.80 134.26,314.34 134.65,313.87 135.04,313.41 135.42,312.94 135.81,312.48 136.19,312.02 136.57,311.55 136.95,311.09 137.33,310.62 137.71,310.16 138.09,309.70 138.47,309.23 138.84,308.77 139.21,308.30 139.58,307.84 139.95,307.37 140.32,306.91 140.68,306.45 141.05,305.98 141.40,305.52 141.76,305.05 142.12,304.59 142.47,304.13 142.82,303.66 143.17,303.20 143.51,302.73 143.85,302.27 144.19,301.80 144.52,301.34 144.85,300.88 145.18,300.41 145.51,299.95 145.83,299.48 146.15,299.02 146.46,298.56 146.78,298.09 147.09,297.63 147.40,297.16 147.71,296.70 148.01,296.23 148.32,295.77 148.62,295.31 148.92,294.84 149.22,294.38 149.52,293.91 149.82,293.45 150.12,292.99 150.41,292.52 150.71,292.06 151.01,291.59 151.30,291.13 151.60,290.66 151.90,290.20 152.20,289.74 152.49,289.27 152.79,288.81 153.09,288.34 153.39,287.88 153.69,287.42 153.99,286.95 154.29,286.49 154.60,286.02 154.91,285.56 155.21,285.09 155.52,284.63 155.83,284.17 156.15,283.70 156.46,283.24 156.78,282.77 157.10,282.31 157.42,281.85 157.74,281.38 158.07,280.92 158.39,280.45 158.72,279.99 159.05,279.52 159.38,279.06 159.71,278.60 160.04,278.13 160.37,277.67 160.71,277.20 161.04,276.74 161.37,276.28 161.70,275.81 162.04,275.35 162.37,274.88 162.71,274.42 163.04,273.95 163.37,273.49 163.71,273.03 164.04,272.56 164.37,272.10 164.70,271.63 165.03,271.17 165.36,270.71 165.69,270.24 166.02,269.78 166.34,269.31 166.67,268.85 166.99,268.38 167.32,267.92 167.64,267.46 167.95,266.99 168.27,266.53 168.59,266.06 168.90,265.60 169.21,265.14 169.52,264.67 169.83,264.21 170.14,263.74 170.45,263.28 170.76,262.82 171.07,262.35 171.37,261.89 171.68,261.42 171.98,260.96 172.29,260.49 172.59,260.03 172.89,259.57 173.19,259.10 173.50,258.64 173.80,258.17 174.10,257.71 174.40,257.25 174.70,256.78 175.00,256.32 175.30,255.85 175.59,255.39 175.89,254.92 176.19,254.46 176.48,254.00 176.78,253.53 177.08,253.07 177.37,252.60 177.67,252.14 177.96,251.68 178.26,251.21 178.55,250.75 178.84,250.28 179.14,249.82 179.43,249.35 179.72,248.89 180.02,248.43 180.31,247.96 180.60,247.50 180.89,247.03 181.19,246.57 181.48,246.11 181.77,245.64 182.06,245.18 182.35,244.71 182.64,244.25 182.93,243.78 183.22,243.32 183.52,242.86 183.81,242.39 184.10,241.93 184.39,241.46 184.68,241.00 184.97,240.54 185.26,240.07 185.55,239.61 185.84,239.14 186.14,238.68 186.43,238.21 186.72,237.75 187.01,237.29 187.30,236.82 187.59,236.36 187.88,235.89 188.18,235.43 188.47,234.97 188.76,234.50 189.05,234.04 189.35,233.57 189.64,233.11 189.93,232.64 190.23,232.18 190.52,231.72 190.82,231.25 191.11,230.79 191.41,230.32 191.70,229.86 192.00,229.40 192.29,228.93 192.59,228.47 192.89,228.00 193.18,227.54 193.48,227.07 193.78,226.61 194.07,226.15 194.37,225.68 194.67,225.22 194.97,224.75 195.26,224.29 195.56,223.83 195.86,223.36 196.16,222.90 196.46,222.43 196.76,221.97 197.05,221.50 197.35,221.04 197.65,220.58 197.95,220.11 198.25,219.65 198.55,219.18 198.85,218.72 199.15,218.26 199.45,217.79 199.75,217.33 200.05,216.86 200.35,216.40 200.65,215.93 200.95,215.47 201.25,215.01 201.55,214.54 201.85,214.08 202.15,213.61 202.45,213.15 202.75,212.69 203.05,212.22 203.36,211.76 203.66,211.29 203.96,210.83 204.26,210.36 204.56,209.90 204.87,209.44 205.17,208.97 205.47,208.51 205.77,208.04 206.07,207.58 206.38,207.12 206.68,206.65 206.98,206.19 207.29,205.72 207.59,205.26 207.89,204.79 208.20,204.33 208.50,203.87 208.80,203.40 209.11,202.94 209.41,202.47 209.71,202.01 210.02,201.55 210.32,201.08 210.63,200.62 210.93,200.15 211.23,199.69 211.54,199.22 211.84,198.76 212.15,198.30 212.45,197.83 212.76,197.37 213.06,196.90 213.37,196.44 213.67,195.98 213.98,195.51 214.28,195.05 214.59,194.58 214.89,194.12 215.20,193.65 215.50,193.19 215.81,192.73 216.12,192.26 216.42,191.80 216.73,191.33 217.03,190.87 217.34,190.41 217.65,189.94 217.95,189.48 218.26,189.01 218.57,188.55 218.88,188.08 219.19,187.62 219.49,187.16 219.80,186.69 220.11,186.23 220.42,185.76 220.73,185.30 221.04,184.84 221.35,184.37 221.66,183.91 221.97,183.44 222.28,182.98 222.59,182.51 222.90,182.05 223.21,181.59 223.52,181.12 223.83,180.66 224.14,180.19 224.46,179.73 224.77,179.27 225.08,178.80 225.39,178.34 225.71,177.87 226.02,177.41 226.33,176.94 226.65,176.48 226.96,176.02 227.28,175.55 227.59,175.09 227.91,174.62 228.22,174.16 228.54,173.70 228.85,173.23 229.17,172.77 229.49,172.30 229.80,171.84 230.12,171.37 230.44,170.91 230.75,170.45 231.07,169.98 231.39,169.52 231.71,169.05 232.03,168.59 232.35,168.13 232.67,167.66 232.99,167.20 233.31,166.73 233.63,166.27 233.95,165.80 234.27,165.34 234.60,164.88 234.92,164.41 235.24,163.95 235.56,163.48 235.89,163.02 236.21,162.56 236.54,162.09 236.86,161.63 237.19,161.16 237.51,160.70 237.84,160.23 238.16,159.77 238.49,159.31 238.82,158.84 239.14,158.38 239.47,157.91 239.80,157.45 240.13,156.99 240.46,156.52 240.79,156.06 241.12,155.59 241.45,155.13 241.78,154.67 242.11,154.20 242.44,153.74 242.77,153.27 243.10,152.81 243.44,152.34 243.77,151.88 244.10,151.42 244.44,150.95 244.77,150.49 245.10,150.02 245.44,149.56 245.77,149.10 246.11,148.63 246.45,148.17 246.78,147.70 247.12,147.24 247.46,146.77 247.80,146.31 248.14,145.85 248.48,145.38 248.82,144.92 249.16,144.45 249.50,143.99 249.84,143.53 250.18,143.06 250.52,142.60 250.87,142.13 251.21,141.67 251.56,141.20 251.90,140.74 252.25,140.28 252.60,139.81 252.94,139.35 253.29,138.88 253.64,138.42 253.99,137.96 254.34,137.49 254.69,137.03 255.04,136.56 255.39,136.10 255.75,135.63 256.10,135.17 256.45,134.71 256.81,134.24 257.17,133.78 257.52,133.31 257.88,132.85 258.24,132.39 258.60,131.92 258.96,131.46 259.32,130.99 259.68,130.53 260.05,130.06 260.41,129.60 260.77,129.14 261.14,128.67 261.51,128.21 261.87,127.74 262.24,127.28 262.61,126.82 262.98,126.35 263.35,125.89 263.73,125.42 264.10,124.96 264.47,124.49 264.85,124.03 265.23,123.57 265.60,123.10 265.98,122.64 266.36,122.17 266.75,121.71 267.13,121.25 267.51,120.78 267.90,120.32 268.28,119.85 268.67,119.39 269.06,118.92 269.45,118.46 269.84,118.00 270.23,117.53 270.62,117.07 271.01,116.60 271.41,116.14 271.80,115.68 272.20,115.21 272.60,114.75 273.00,114.28 273.40,113.82 273.80,113.35 274.21,112.89 274.61,112.43 275.02,111.96 275.42,111.50 275.83,111.03 276.24,110.57 276.65,110.11 277.06,109.64 277.48,109.18 277.89,108.71 278.31,108.25 278.73,107.78 279.15,107.32 279.57,106.86 279.99,106.39 280.41,105.93 280.84,105.46 281.26,105.00 281.69,104.54 282.12,104.07 282.55,103.61 282.98,103.14 283.41,102.68 283.85,102.21 284.28,101.75 284.72,101.29 285.16,100.82 285.60,100.36 286.05,99.89 286.49,99.43 286.94,98.97 287.38,98.50 287.83,98.04 288.28,97.57 288.73,97.11 289.19,96.64 289.64,96.18 290.10,95.72 290.56,95.25 291.02,94.79 291.48,94.32 291.95,93.86 292.41,93.40 292.88,92.93 293.35,92.47 293.82,92.00 294.30,91.54 294.77,91.07 295.25,90.61 295.73,90.15 296.21,89.68 296.69,89.22 297.18,88.75 297.67,88.29 298.16,87.83 298.65,87.36 299.14,86.90 299.64,86.43 300.13,85.97 300.63,85.50 301.13,85.04 301.64,84.58 302.15,84.11 302.66,83.65 303.17,83.18 303.68,82.72 304.20,82.26 304.72,81.79 305.24,81.33 305.77,80.86 306.29,80.40 306.83,79.93 307.36,79.47 307.89,79.01 308.43,78.54 308.98,78.08 309.52,77.61 310.07,77.15 310.62,76.69 311.17,76.22 311.73,75.76 312.29,75.29 312.85,74.83 313.42,74.36 313.99,73.90 314.56,73.44 315.14,72.97 315.72,72.51 316.30,72.04 316.88,71.58 317.47,71.12 318.07,70.65 318.66,70.19 319.26,69.72 319.87,69.26 320.47,68.79 321.08,68.33 321.70,67.87 322.32,67.40 322.94,66.94 323.57,66.47 324.20,66.01 324.83,65.55 325.47,65.08 326.11,64.62 326.76,64.15 327.41,63.69 328.06,63.22 328.72,62.76 329.39,62.30 330.06,61.83 330.73,61.37 331.41,60.90 332.09,60.44 332.78,59.98 333.47,59.51 334.16,59.05 334.87,58.58 335.57,58.12 336.29,57.65 337.00,57.19 337.73,56.73 338.45,56.26 339.19,55.80 339.93,55.33 340.67,54.87 341.42,54.41 342.18,53.94 342.94,53.48 343.71,53.01 344.49,52.55 345.27,52.08 346.06,51.62 346.85,51.16 347.65,50.69 348.46,50.23 349.28,49.76 350.10,49.30 350.57,49.03 351.04,48.76 351.52,48.49 351.99,48.22 352.46,47.96 352.93,47.69 353.41,47.43 353.88,47.17 354.35,46.91 354.82,46.65 355.30,46.39 355.77,46.14 356.24,45.88 356.71,45.63 357.18,45.38 357.66,45.13 358.13,44.88 358.60,44.63 359.07,44.39 359.55,44.14 360.02,43.90 360.49,43.66 360.96,43.42 361.44,43.18 361.91,42.94 362.38,42.71 362.85,42.47 363.32,42.24 363.80,42.01 364.27,41.78 364.74,41.55 365.21,41.32 365.69,41.09 366.16,40.87 366.63,40.64 367.10,40.42 367.58,40.20 368.05,39.98 368.52,39.76 368.99,39.54 369.46,39.33 369.94,39.11 370.41,38.90 370.88,38.69 371.35,38.48 371.83,38.27 372.30,38.06 372.77,37.85 373.24,37.65 373.72,37.44 374.19,37.24 374.66,37.04 375.13,36.84 375.60,36.64 376.08,36.44 376.55,36.25 377.02,36.05 377.49,35.86 377.97,35.66 378.44,35.47 378.91,35.28 379.38,35.09 379.86,34.91 380.33,34.72 380.80,34.53 381.27,34.35 381.74,34.17 382.22,33.99 382.69,33.81 383.16,33.63 383.63,33.45 384.11,33.27 384.58,33.10 385.05,32.92 385.52,32.75 386.00,32.58 386.47,32.41 386.94,32.24 387.41,32.07 387.88,31.90 388.36,31.73 388.83,31.57 389.30,31.41 389.77,31.24 390.25,31.08 390.72,30.92 391.19,30.76 391.66,30.60 392.14,30.45 392.61,30.29 393.08,30.14 393.55,29.98 394.02,29.83 394.50,29.68 394.97,29.53 395.44,29.38 395.91,29.23 396.39,29.09 396.86,28.94 397.33,28.80 397.80,28.65 398.28,28.51 398.75,28.37 399.22,28.23 399.69,28.09 400.16,27.95 400.64,27.81 401.11,27.67 401.58,27.54 402.05,27.41 402.53,27.27 403.00,27.14 403.47,27.01 403.94,26.88 404.42,26.75 404.89,26.62 405.36,26.49 405.83,26.37 406.30,26.24 406.78,26.12 407.25,25.99 407.72,25.87 408.19,25.75 408.67,25.63 409.14,25.51 409.61,25.39 410.08,25.27 410.56,25.16 411.03,25.04 411.50,24.93 411.97,24.81 412.44,24.70 412.92,24.59 413.39,24.48 413.86,24.37 414.33,24.26 414.81,24.15 415.28,24.04 415.75,23.93 416.22,23.83 416.70,23.72 417.17,23.62 417.64,23.51 418.11,23.41 418.58,23.31 419.06,23.21 419.53,23.11 420.00,23.01 420.47,22.91 420.95,22.81 421.42,22.72 421.89,22.62 422.36,22.53 422.84,22.43 423.31,22.34 423.78,22.25 424.25,22.15 424.72,22.06 425.20,21.97 425.67,21.88 426.14,21.79 426.61,21.71 427.09,21.62 427.56,21.53 428.03,21.45 428.50,21.36 428.98,21.28 429.45,21.19 429.92,21.11 430.39,21.03 430.86,20.95 431.34,20.87 431.81,20.79 432.28,20.71 432.75,20.63 433.23,20.55 433.70,20.48 434.17,20.40 434.64,20.32 435.12,20.25 435.59,20.17 436.06,20.10 436.53,20.03 437.00,19.96 437.48,19.88 437.95,19.81 438.42,19.74 438.89,19.67 439.37,19.60 439.84,19.54 440.31,19.47 440.78,19.40 441.26,19.33 441.73,19.27 442.20,19.20 442.67,19.14 443.14,19.07 443.62,19.01 444.09,18.95 444.56,18.88 445.03,18.82 445.51,18.76 445.98,18.70 446.45,18.64 446.92,18.58 447.39,18.52 447.87,18.46 448.34,18.41 448.81,18.35 449.28,18.29 449.76,18.24 450.23,18.18 450.70,18.13 451.17,18.07 451.65,18.02 452.12,17.96 452.59,17.91 453.06,17.86 453.53,17.81 454.01,17.75 454.48,17.70 454.95,17.65 455.42,17.60 455.90,17.55 456.37,17.50 456.84,17.46 457.31,17.41 457.79,17.36 458.26,17.31 458.73,17.27 459.20,17.22 459.67,17.18 460.15,17.13 460.62,17.09 461.09,17.04 461.56,17.00 462.04,16.95 462.51,16.91 462.98,16.87 463.45,16.83 463.93,16.78 464.40,16.74 464.87,16.70 465.34,16.66 465.81,16.62 466.29,16.58 466.76,16.54 467.23,16.50 467.70,16.47 468.18,16.43 468.65,16.39 469.12,16.35 469.59,16.32 470.07,16.28 470.54,16.24 471.01,16.21 471.48,16.17 471.95,16.14 472.43,16.10 472.90,16.07 473.37,16.04 473.84,16.00 474.32,15.97 474.79,15.94 475.26,15.90 475.73,15.87 476.21,15.84 476.68,15.81 477.15,15.78 477.62,15.75 478.09,15.72 478.57,15.69 479.04,15.66 479.51,15.63 479.98,15.60 480.46,15.57 480.93,15.54 481.40,15.51 481.87,15.49 482.35,15.46 482.82,15.43 483.29,15.40 483.76,15.38 484.23,15.35 484.71,15.32 485.18,15.30 485.65,15.27 486.12,15.25 486.60,15.22 487.07,15.20 487.54,15.17 488.01,15.15 488.49,15.13 488.96,15.10 489.43,15.08 489.90,15.06 490.37,15.03 490.85,15.01 491.32,14.99 491.79,14.97 492.26,14.95 492.74,14.92 493.21,14.90 493.68,14.88 494.15,14.86 494.63,14.84 495.10,14.82 495.57,14.80 496.04,14.78 496.51,14.76 496.99,14.74 497.46,14.72 497.93,14.70 498.40,14.68 498.88,14.67 499.35,14.65 499.82,14.63 500.29,14.61 500.77,14.59 501.24,14.58 501.71,14.56 502.18,14.54 502.65,14.52 503.13,14.51 503.60,14.49 504.07,14.48 504.54,14.46 505.02,14.44 505.49,14.43 505.96,14.41 506.43,14.40 506.91,14.38 507.38,14.37 507.85,14.35 508.32,14.34 508.79,14.32 509.27,14.31 509.74,14.29 510.21,14.28 510.68,14.27 511.16,14.25 511.63,14.24 512.10,14.23 512.57,14.21 513.05,14.20 513.52,14.19 513.99,14.17 514.46,14.16 514.93,14.15 515.41,14.14 515.88,14.13 516.35,14.11 516.82,14.10 517.30,14.09 517.77,14.08 518.24,14.07 518.71,14.06 519.19,14.05 519.66,14.03 520.13,14.02 520.60,14.01 521.07,14.00 521.55,13.99 522.02,13.98 522.49,13.97 522.96,13.96 523.44,13.95 523.91,13.94 524.38,13.93 524.85,13.92 525.33,13.91 525.80,13.91 526.27,13.90 526.74,13.89 527.21,13.88 527.69,13.87 528.16,13.86 528.63,13.85 529.10,13.84 529.58,13.84 530.05,13.83 530.52,13.82 530.99,13.81 531.47,13.80 531.94,13.80 532.41,13.79 532.88,13.78 533.35,13.77 533.83,13.77 534.30,13.76 534.77,13.75 535.24,13.74 535.72,13.74 536.19,13.73 536.66,13.72 537.13,13.72 537.61,13.71 538.08,13.70 538.55,13.70 537.55,13.70" stroke="#e41a1c"/>
<polyline points="50.15,373.75 52.15,373.75 58.70,373.29 61.68,372.82 63.96,372.36 65.89,371.89 67.59,371.43 69.13,370.97 70.55,370.50 71.87,370.04 73.11,369.57 74.29,369.11 75.40,368.64 76.47,368.18 77.50,367.72 78.49,367.25 79.44,366.79 80.37,366.32 81.26,365.86 82.13,365.40 82.98,364.93 83.81,364.47 84.61,364.00 85.40,363.54 86.17,363.07 86.93,362.61 87.67,362.15 88.40,361.68 89.11,361.22 89.81,360.75 90.51,360.29 91.19,359.83 91.87,359.36 92.54,358.90 93.20,358.43 93.85,357.97 94.49,357.50 95.12,357.04 95.74,356.58 96.35,356.11 96.96,355.65 97.55,355.18 98.13,354.72 98.70,354.26 99.26,353.79 99.82,353.33 100.36,352.86 100.89,352.40 101.41,351.93 101.92,351.47 102.41,351.01 102.90,350.54 103.38,350.08 103.85,349.61 104.32,349.15 104.77,348.69 105.22,348.22 105.67,347.76 106.10,347.29 106.54,346.83 106.97,346.36 107.39,345.90 107.82,345.44 108.24,344.97 108.65,344.51 109.07,344.04 109.48,343.58 109.89,343.12 110.30,342.65 110.71,342.19 111.12,341.72 111.53,341.26 111.94,340.79 112.35,340.33 112.76,339.87 113.17,339.40 113.59,338.94 114.00,338.47 114.42,338.01 114.84,337.55 115.26,337.08 115.68,336.62 116.11,336.15 116.53,335.69 116.95,335.22 117.38,334.76 117.80,334.30 118.23,333.83 118.66,333.37 119.08,332.90 119.51,332.44 119.93,331.98 120.36,331.51 120.78,331.05 121.21,330.58 121.63,330.12 122.05,329.65 122.48,329.19 122.90,328.73 123.32,328.26 123.74,327.80 124.15,327.33 124.57,326.87 124.98,326.41 125.40,325.94 125.81,325.48 126.22,325.01 126.63,324.55 127.04,324.08 127.44,323.62 127.85,323.16 128.25,322.69 128.65,322.23 129.04,321.76 129.44,321.30 129.83,320.84 130.22,320.37 130.61,319.91 130.99,319.44 131.38,318.98 131.76,318.51 132.14,318.05 132.52,317.59 132.90,317.12 133.28,316.66 133.66,316.19 134.04,315.73 134.41,315.27 134.79,314.80 135.16,314.34 135.53,313.87 135.90,313.41 136.27,312.94 136.64,312.48 137.01,312.02 137.38,311.55 137.75,311.09 138.11,310.62 138.48,310.16 138.84,309.70 139.20,309.23 139.56,308.77 139.93,308.30 140.29,307.84 140.64,307.37 141.00,306.91 141.36,306.45 141.72,305.98 142.07,305.52 142.43,305.05 142.78,304.59 143.13,304.13 143.49,303.66 143.84,303.20 144.19,302.73 144.54,302.27 144.88,301.80 145.23,301.34 145.58,300.88 145.92,300.41 146.27,299.95 146.61,299.48 146.95,299.02 147.29,298.56 147.63,298.09 147.97,297.63 148.31,297.16 148.64,296.70 148.98,296.23 149.31,295.77 149.65,295.31 149.98,294.84 150.31,294.38 150.65,293.91 150.98,293.45 151.31,292.99 151.64,292.52 151.97,292.06 152.31,291.59 152.64,291.13 152.97,290.66 153.30,290.20 153.63,289.74 153.96,289.27 154.29,288.81 154.62,288.34 154.95,287.88 155.28,287.42 155.61,286.95 155.95,286.49 156.28,286.02 156.61,285.56 156.94,285.09 157.28,284.63 157.61,284.17 157.94,283.70 158.28,283.24 158.62,282.77 158.95,282.31 159.29,281.85 159.63,281.38 159.97,280.92 160.31,280.45 160.66,279.99 161.00,279.52 161.34,279.06 161.68,278.60 162.03,278.13 162.37,277.67 162.72,277.20 163.06,276.74 163.41,276.28 163.75,275.81 164.09,275.35 164.44,274.88 164.78,274.42 165.12,273.95 165.46,273.49 165.81,273.03 166.15,272.56 166.49,272.10 166.82,271.63 167.16,271.17 167.50,270.71 167.83,270.24 168.17,269.78 168.50,269.31 168.83,268.85 169.16,268.38 169.49,267.92 169.81,267.46 170.14,266.99 170.46,266.53 170.78,266.06 171.10,265.60 171.42,265.14 171.73,264.67 172.05,264.21 172.36,263.74 172.67,263.28 172.98,262.82 173.29,262.35 173.60,261.89 173.91,261.42 174.22,260.96 174.53,260.49 174.83,260.03 175.14,259.57 175.44,259.10 175.75,258.64 176.05,258.17 176.35,257.71 176.65,257.25 176.95,256.78 177.25,256.32 177.55,255.85 177.85,255.39 178.15,254.92 178.44,254.46 178.74,254.00 179.04,253.53 179.33,253.07 179.63,252.60 179.92,252.14 180.22,251.68 180.51,251.21 180.80,250.75 181.09,250.28 181.39,249.82 181.68,249.35 181.97,248.89 182.26,248.43 182.55,247.96 182.84,247.50 183.13,247.03 183.43,246.57 183.72,246.11 184.01,245.64 184.30,245.18 184.58,244.71 184.87,244.25 185.16,243.78 185.45,243.32 185.74,242.86 186.03,242.39 186.32,241.93 186.61,241.46 186.90,241.00 187.19,240.54 187.48,240.07 187.77,239.61 188.06,239.14 188.35,238.68 188.64,238.21 188.93,237.75 189.22,237.29 189.51,236.82 189.80,236.36 190.09,235.89 190.38,235.43 190.67,234.97 190.96,234.50 191.26,234.04 191.55,233.57 191.84,233.11 192.13,232.64 192.43,232.18 192.72,231.72 193.02,231.25 193.31,230.79 193.61,230.32 193.90,229.86 194.20,229.40 194.50,228.93 194.79,228.47 195.09,228.00 195.39,227.54 195.69,227.07 195.98,226.61 196.28,226.15 196.58,225.68 196.88,225.22 197.18,224.75 197.48,224.29 197.77,223.83 198.07,223.36 198.37,222.90 198.67,222.43 198.97,221.97 199.27,221.50 199.57,221.04 199.87,220.58 200.17,220.11 200.47,219.65 200.78,219.18 201.08,218.72 201.38,218.26 201.68,217.79 201.98,217.33 202.28,216.86 202.58,216.40 202.89,215.93 203.19,215.47 203.49,215.01 203.79,214.54 204.10,214.08 204.40,213.61 204.70,213.15 205.00,212.69 205.31,212.22 205.61,211.76 205.91,211.29 206.22,210.83 206.52,210.36 206.82,209.90 207.13,209.44 207.43,208.97 207.74,208.51 208.04,208.04 208.34,207.58 208.65,207.12 208.95,206.65 209.26,206.19 209.56,205.72 209.87,205.26 210.17,204.79 210.48,204.33 210.78,203.87 211.09,203.40 211.39,202.94 211.70,202.47 212.00,202.01 212.31,201.55 212.61,201.08 212.92,200.62 213.22,200.15 213.53,199.69 213.83,199.22 214.14,198.76 214.44,198.30 214.75,197.83 215.05,197.37 215.36,196.90 215.66,196.44 215.97,195.98 216.28,195.51 216.58,195.05 216.89,194.58 217.19,194.12 217.50,193.65 217.80,193.19 218.11,192.73 218.42,192.26 218.72,191.80 219.03,191.33 219.33,190.87 219.64,190.41 219.94,189.94 220.25,189.48 220.56,189.01 220.86,188.55 221.17,188.08 221.48,187.62 221.78,187.16 222.09,186.69 222.40,186.23 222.71,185.76 223.01,185.30 223.32,184.84 223.63,184.37 223.94,183.91 224.24,183.44 224.55,182.98 224.86,182.51 225.17,182.05 225.48,181.59 225.79,181.12 226.10,180.66 226.41,180.19 226.72,179.73 227.03,179.27 227.34,178.80 227.65,178.34 227.96,177.87 228.27,177.41 228.58,176.94 228.89,176.48 229.21,176.02 229.52,175.55 229.83,175.09 230.14,174.62 230.46,174.16 230.77,173.70 231.08,173.23 231.40,172.77 231.71,172.30 232.03,171.84 232.34,171.37 232.66,170.91 232.97,170.45 233.29,169.98 233.61,169.52 233.92,169.05 234.24,168.59 234.56,168.13 234.88,167.66 235.20,167.20 235.52,166.73 235.84,166.27 236.16,165.80 236.48,165.34 236.80,164.88 237.12,164.41 237.44,163.95 237.76,163.48 238.09,163.02 238.41,162.56 238.73,162.09 239.06,161.63 239.38,161.16 239.71,160.70 240.03,160.23 240.36,159.77 240.69,159.31 241.01,158.84 241.34,158.38 241.67,157.91 242.00,157.45 242.33,156.99 242.66,156.52 242.99,156.06 243.32,155.59 243.65,155.13 243.99,154.67 244.32,154.20 244.65,153.74 244.99,153.27 245.32,152.81 245.65,152.34 245.99,151.88 246.32,151.42 246.66,150.95 247.00,150.49 247.33,150.02 247.67,149.56 248.01,149.10 248.35,148.63 248.69,148.17 249.03,147.70 249.37,147.24 249.71,146.77 250.05,146.31 250.39,145.85 250.74,145.38 251.08,144.92 251.42,144.45 251.77,143.99 252.12,143.53 252.46,143.06 252.81,142.60 253.16,142.13 253.50,141.67 253.85,141.20 254.20,140.74 254.55,140.28 254.90,139.81 255.25,139.35 255.61,138.88 255.96,138.42 256.31,137.96 256.67,137.49 257.02,137.03 257.38,136.56 257.74,136.10 258.09,135.63 258.45,135.17 258.81,134.71 259.17,134.24 259.53,133.78 259.89,133.31 260.26,132.85 260.62,132.39 260.98,131.92 261.35,131.46 261.72,130.99 262.08,130.53 262.45,130.06 262.82,129.60 263.19,129.14 263.56,128.67 263.93,128.21 264.30,127.74 264.68,127.28 265.05,126.82 265.43,126.35 265.80,125.89 266.18,125.42 266.56,124.96 266.94,124.49 267.32,124.03 267.70,123.57 268.09,123.10 268.47,122.64 268.86,122.17 269.24,121.71 269.63,121.25 270.02,120.78 270.41,120.32 270.80,119.85 271.19,119.39 271.58,118.92 271.98,118.46 272.38,118.00 272.77,117.53 273.17,117.07 273.57,116.60 273.97,116.14 274.37,115.68 274.78,115.21 275.18,114.75 275.59,114.28 276.00,113.82 276.41,113.35 276.82,112.89 277.23,112.43 277.64,111.96 278.05,111.50 278.47,111.03 278.89,110.57 279.31,110.11 279.72,109.64 280.15,109.18 280.57,108.71 280.99,108.25 281.42,107.78 281.84,107.32 282.27,106.86 282.70,106.39 283.13,105.93 283.56,105.46 284.00,105.00 284.43,104.54 284.87,104.07 285.31,103.61 285.75,103.14 286.19,102.68 286.63,102.21 287.08,101.75 287.52,101.29 287.97,100.82 288.42,100.36 288.87,99.89 289.32,99.43 289.77,98.97 290.23,98.50 290.68,98.04 291.14,97.57 291.60,97.11 292.06,96.64 292.52,96.18 292.99,95.72 293.45,95.25 293.92,94.79 294.39,94.32 294.86,93.86 295.33,93.40 295.81,92.93 296.28,92.47 296.76,92.00 297.24,91.54 297.72,91.07 298.21,90.61 298.69,90.15 299.18,89.68 299.66,89.22 300.15,88.75 300.64,88.29 301.14,87.83 301.63,87.36 302.13,86.90 302.63,86.43 303.13,85.97 303.63,85.50 304.14,85.04 304.64,84.58 305.15,84.11 305.66,83.65 306.18,83.18 306.69,82.72 307.21,82.26 307.73,81.79 308.25,81.33 308.78,80.86 309.31,80.40 309.84,79.93 310.37,79.47 310.91,79.01 311.44,78.54 311.98,78.08 312.53,77.61 313.07,77.15 313.62,76.69 314.18,76.22 314.73,75.76 315.29,75.29 315.85,74.83 316.41,74.36 316.98,73.90 317.55,73.44 318.12,72.97 318.69,72.51 319.27,72.04 319.86,71.58 320.44,71.12 321.03,70.65 321.62,70.19 322.22,69.72 322.81,69.26 323.42,68.79 324.02,68.33 324.63,67.87 325.24,67.40 325.86,66.94 326.48,66.47 327.11,66.01 327.73,65.55 328.37,65.08 329.00,64.62 329.64,64.15 330.29,63.69 330.94,63.22 331.59,62.76 332.25,62.30 332.91,61.83 333.57,61.37 334.25,60.90 334.92,60.44 335.60,59.98 336.29,59.51 336.98,59.05 337.67,58.58 338.37,58.12 339.08,57.65 339.79,57.19 340.51,56.73 341.23,56.26 341.95,55.80 342.69,55.33 343.43,54.87 344.17,54.41 344.92,53.94 345.68,53.48 346.44,53.01 347.21,52.55 347.99,52.08 348.78,51.62 349.57,51.16 350.36,50.69 351.17,50.23 351.98,49.76 352.80,49.30 353.27,49.04 353.73,48.78 354.20,48.53 354.66,48.27 355.13,48.02 355.59,47.77 356.06,47.51 356.52,47.26 356.99,47.02 357.46,46.77 357.92,46.53 358.39,46.28 358.85,46.04 359.32,45.80 359.78,45.56 360.25,45.32 360.71,45.08 361.18,44.85 361.65,44.61 362.11,44.38 362.58,44.15 363.04,43.92 363.51,43.69 363.97,43.46 364.44,43.24 364.90,43.01 365.37,42.79 365.84,42.57 366.30,42.35 366.77,42.13 367.23,41.91 367.70,41.69 368.16,41.48 368.63,41.26 369.09,41.05 369.56,40.84 370.02,40.63 370.49,40.42 370.96,40.21 371.42,40.00 371.89,39.80 372.35,39.60 372.82,39.39 373.28,39.19 373.75,38.99 374.21,38.79 374.68,38.59 375.15,38.40 375.61,38.20 376.08,38.01 376.54,37.82 377.01,37.62 377.47,37.43 377.94,37.24 378.40,37.06 378.87,36.87 379.34,36.68 379.80,36.50 380.27,36.32 380.73,36.13 381.20,35.95 381.66,35.77 382.13,35.59 382.59,35.42 383.06,35.24 383.53,35.06 383.99,34.89 384.46,34.72 384.92,34.55 385.39,34.38 385.85,34.21 386.32,34.04 386.78,33.87 387.25,33.70 387.72,33.54 388.18,33.38 388.65,33.21 389.11,33.05 389.58,32.89 390.04,32.73 390.51,32.57 390.97,32.41 391.44,32.26 391.91,32.10 392.37,31.95 392.84,31.79 393.30,31.64 393.77,31.49 394.23,31.34 394.70,31.19 395.16,31.04 395.63,30.90 396.10,30.75 396.56,30.60 397.03,30.46 397.49,30.32 397.96,30.17 398.42,30.03 398.89,29.89 399.35,29.75 399.82,29.62 400.28,29.48 400.75,29.34 401.22,29.21 401.68,29.07 402.15,28.94 402.61,28.81 403.08,28.67 403.54,28.54 404.01,28.41 404.47,28.28 404.94,28.16 405.41,28.03 405.87,27.90 406.34,27.78 406.80,27.65 407.27,27.53 407.73,27.41 408.20,27.29 408.66,27.17 409.13,27.05 409.60,26.93 410.06,26.81 410.53,26.69 410.99,26.57 411.46,26.46 411.92,26.34 412.39,26.23 412.85,26.12 413.32,26.01 413.79,25.89 414.25,25.78 414.72,25.67 415.18,25.56 415.65,25.46 416.11,25.35 416.58,25.24 417.04,25.14 417.51,25.03 417.98,24.93 418.44,24.82 418.91,24.72 419.37,24.62 419.84,24.52 420.30,24.42 420.77,24.32 421.23,24.22 421.70,24.12 422.17,24.02 422.63,23.93 423.10,23.83 423.56,23.74 424.03,23.64 424.49,23.55 424.96,23.46 425.42,23.36 425.89,23.27 426.36,23.18 426.82,23.09 427.29,23.00 427.75,22.91 428.22,22.83 428.68,22.74 429.15,22.65 429.61,22.57 430.08,22.48 430.54,22.40 431.01,22.31 431.48,22.23 431.94,22.15 432.41,22.06 432.87,21.98 433.34,21.90 433.80,21.82 434.27,21.74 434.73,21.66 435.20,21.59 435.67,21.51 436.13,21.43 436.60,21.36 437.06,21.28 437.53,21.21 437.99,21.13 438.46,21.06 438.92,20.98 439.39,20.91 439.86,20.84 440.32,20.77 440.79,20.70 441.25,20.63 441.72,20.56 442.18,20.49 442.65,20.42 443.11,20.35 443.58,20.28 444.05,20.22 444.51,20.15 444.98,20.09 445.44,20.02 445.91,19.96 446.37,19.89 446.84,19.83 447.30,19.76 447.77,19.70 448.24,19.64 448.70,19.58 449.17,19.52 449.63,19.46 450.10,19.40 450.56,19.34 451.03,19.28 451.49,19.22 451.96,19.16 452.43,19.11 452.89,19.05 453.36,18.99 453.82,18.94 454.29,18.88 454.75,18.83 455.22,18.77 455.68,18.72 456.15,18.66 456.62,18.61 457.08,18.56 457.55,18.50 458.01,18.45 458.48,18.40 458.94,18.35 459.41,18.30 459.87,18.25 460.34,18.20 460.81,18.15 461.27,18.10 461.74,18.05 462.20,18.01 462.67,17.96 463.13,17.91 463.60,17.87 464.06,17.82 464.53,17.77 464.99,17.73 465.46,17.68 465.93,17.64 466.39,17.59 466.86,17.55 467.32,17.51 467.79,17.46 468.25,17.42 468.72,17.38 469.18,17.34 469.65,17.30 470.12,17.25 470.58,17.21 471.05,17.17 471.51,17.13 471.98,17.09 472.44,17.05 472.91,17.02 473.37,16.98 473.84,16.94 474.31,16.90 474.77,16.86 475.24,16.83 475.70,16.79 476.17,16.75 476.63,16.72 477.10,16.68 477.56,16.64 478.03,16.61 478.50,16.57 478.96,16.54 479.43,16.51 479.89,16.47 480.36,16.44 480.82,16.41 481.29,16.37 481.75,16.34 482.22,16.31 482.69,16.28 483.15,16.24 483.62,16.21 484.08,16.18 484.55,16.15 485.01,16.12 485.48,16.09 485.94,16.06 486.41,16.03 486.88,16.00 487.34,15.97 487.81,15.94 488.27,15.91 488.74,15.89 489.20,15.86 489.67,15.83 490.13,15.80 490.60,15.77 491.07,15.75 491.53,15.72 492.00,15.69 492.46,15.67 492.93,15.64 493.39,15.62 493.86,15.59 494.32,15.57 494.79,15.54 495.25,15.52 495.72,15.49 496.19,15.47 496.65,15.44 497.12,15.42 497.58,15.40 498.05,15.37 498.51,15.35 498.98,15.33 499.44,15.30 499.91,15.28 500.38,15.26 500.84,15.24 501.31,15.22 501.77,15.19 502.24,15.17 502.70,15.15 503.17,15.13 503.63,15.11 504.10,15.09 504.57,15.07 505.03,15.05 505.50,15.03 505.96,15.01 506.43,14.99 506.89,14.97 507.36,14.95 507.82,14.93 508.29,14.91 508.76,14.89 509.22,14.88 509.69,14.86 510.15,14.84 510.62,14.82 511.08,14.80 511.55,14.79 512.01,14.77 512.48,14.75 512.95,14.74 513.41,14.72 513.88,14.70 514.34,14.69 514.81,14.67 515.27,14.65 515.74,14.64 516.20,14.62 516.67,14.61 517.14,14.59 517.60,14.58 518.07,14.56 518.53,14.55 519.00,14.53 519.46,14.52 519.93,14.50 520.39,14.49 520.86,14.47 521.33,14.46 521.79,14.45 522.26,14.43 522.72,14.42 523.19,14.41 523.65,14.39 524.12,14.38 524.58,14.37 525.05,14.35 525.51,14.34 525.98,14.33 526.45,14.31 526.91,14.30 527.38,14.29 527.84,14.28 528.31,14.27 528.77,14.25 529.24,14.24 529.70,14.23 530.17,14.22 530.64,14.21 531.10,14.20 531.57,14.19 532.03,14.17 532.50,14.16 532.96,14.15 533.43,14.14 533.89,14.13 534.36,14.12 534.83,14.11 535.29,14.10 535.76,14.09 536.22,14.08 536.69,14.07 537.15,14.06 537.62,14.05 538.08,14.04 538.55,14.03 537.55,14.03" stroke="#377eb8"/>
<polyline points="50.15,373.75 52.15,373.75 56.41,373.29 58.71,372.82 60.48,372.36 61.96,371.89 63.28,371.43 64.46,370.97 65.55,370.50 66.57,370.04 67.53,369.57 68.43,369.11 69.29,368.64 70.11,368.18 70.90,367.72 71.66,367.25 72.40,366.79 73.11,366.32 73.79,365.86 74.46,365.40 75.11,364.93 75.75,364.47 76.37,364.00 76.97,363.54 77.56,363.07 78.14,362.61 78.71,362.15 79.27,361.68 79.81,361.22 80.35,360.75 80.88,360.29 81.40,359.83 81.91,359.36 82.42,358.90 82.91,358.43 83.40,357.97 83.89,357.50 84.36,357.04 84.83,356.58 85.30,356.11 85.76,355.65 86.21,355.18 86.66,354.72 87.10,354.26 87.53,353.79 87.97,353.33 88.39,352.86 88.82,352.40 89.23,351.93 89.65,351.47 90.06,351.01 90.46,350.54 90.86,350.08 91.26,349.61 91.66,349.15 92.05,348.69 92.43,348.22 92.82,347.76 93.20,347.29 93.58,346.83 93.95,346.36 94.32,345.90 94.69,345.44 95.06,344.97 95.42,344.51 95.79,344.04 96.14,343.58 96.50,343.12 96.85,342.65 97.21,342.19 97.56,341.72 97.90,341.26 98.25,340.79 98.59,340.33 98.93,339.87 99.27,339.40 99.61,338.94 99.94,338.47 100.28,338.01 100.61,337.55 100.94,337.08 101.27,336.62 101.60,336.15 101.92,335.69 102.24,335.22 102.57,334.76 102.88,334.30 103.20,333.83 103.52,333.37 103.84,332.90 104.15,332.44 104.46,331.98 104.77,331.51 105.08,331.05 105.39,330.58 105.70,330.12 106.00,329.65 106.31,329.19 106.61,328.73 106.91,328.26 107.21,327.80 107.51,327.33 107.81,326.87 108.10,326.41 108.40,325.94 108.70,325.48 108.99,325.01 109.28,324.55 109.57,324.08 109.86,323.62 110.15,323.16 110.44,322.69 110.73,322.23 111.01,321.76 111.30,321.30 111.58,320.84 111.87,320.37 112.15,319.91 112.43,319.44 112.71,318.98 112.99,318.51 113.27,318.05 113.55,317.59 113.83,317.12 114.11,316.66 114.38,316.19 114.66,315.73 114.93,315.27 115.21,314.80 115.48,314.34 115.75,313.87 116.02,313.41 116.29,312.94 116.56,312.48 116.83,312.02 117.10,311.55 117.37,311.09 117.64,310.62 117.90,310.16 118.17,309.70 118.44,309.23 118.70,308.77 118.97,308.30 119.23,307.84 119.49,307.37 119.76,306.91 120.02,306.45 120.28,305.98 120.54,305.52 120.80,305.05 121.06,304.59 121.32,304.13 121.58,303.66 121.84,303.20 122.10,302.73 122.36,302.27 122.61,301.80 122.87,301.34 123.13,300.88 123.38,300.41 123.64,299.95 123.89,299.48 124.15,299.02 124.40,298.56 124.66,298.09 124.91,297.63 125.17,297.16 125.42,296.70 125.67,296.23 125.92,295.77 126.18,295.31 126.43,294.84 126.68,294.38 126.93,293.91 127.18,293.45 127.43,292.99 127.68,292.52 127.93,292.06 128.18,291.59 128.43,291.13 128.68,290.66 128.93,290.20 129.17,289.74 129.42,289.27 129.67,288.81 129.91,288.34 130.16,287.88 130.41,287.42 130.65,286.95 130.90,286.49 131.14,286.02 131.39,285.56 131.63,285.09 131.88,284.63 132.12,284.17 132.36,283.70 132.61,283.24 132.85,282.77 133.09,282.31 133.33,281.85 133.58,281.38 133.82,280.92 134.06,280.45 134.30,279.99 134.54,279.52 134.78,279.06 135.02,278.60 135.26,278.13 135.50,277.67 135.74,277.20 135.97,276.74 136.21,276.28 136.45,275.81 136.69,275.35 136.93,274.88 137.16,274.42 137.40,273.95 137.63,273.49 137.87,273.03 138.11,272.56 138.34,272.10 138.58,271.63 138.81,271.17 139.04,270.71 139.28,270.24 139.51,269.78 139.75,269.31 139.98,268.85 140.21,268.38 140.44,267.92 140.68,267.46 140.91,266.99 141.14,266.53 141.37,266.06 141.60,265.60 141.83,265.14 142.06,264.67 142.29,264.21 142.52,263.74 142.75,263.28 142.98,262.82 143.21,262.35 143.43,261.89 143.66,261.42 143.89,260.96 144.12,260.49 144.35,260.03 144.57,259.57 144.80,259.10 145.03,258.64 145.25,258.17 145.48,257.71 145.71,257.25 145.93,256.78 146.16,256.32 146.38,255.85 146.61,255.39 146.83,254.92 147.06,254.46 147.28,254.00 147.51,253.53 147.73,253.07 147.95,252.60 148.18,252.14 148.40,251.68 148.63,251.21 148.85,250.75 149.07,250.28 149.30,249.82 149.52,249.35 149.74,248.89 149.97,248.43 150.19,247.96 150.41,247.50 150.63,247.03 150.86,246.57 151.08,246.11 151.30,245.64 151.52,245.18 151.75,244.71 151.97,244.25 152.19,243.78 152.41,243.32 152.64,242.86 152.86,242.39 153.08,241.93 153.30,241.46 153.52,241.00 153.75,240.54 153.97,240.07 154.19,239.61 154.41,239.14 154.63,238.68 154.85,238.21 155.08,237.75 155.30,237.29 155.52,236.82 155.74,236.36 155.96,235.89 156.19,235.43 156.41,234.97 156.63,234.50 156.85,234.04 157.07,233.57 157.30,233.11 157.52,232.64 157.74,232.18 157.96,231.72 158.18,231.25 158.41,230.79 158.63,230.32 158.85,229.86 159.07,229.40 159.30,228.93 159.52,228.47 159.74,228.00 159.97,227.54 160.19,227.07 160.41,226.61 160.63,226.15 160.86,225.68 161.08,225.22 161.30,224.75 161.53,224.29 161.75,223.83 161.97,223.36 162.20,222.90 162.42,222.43 162.64,221.97 162.87,221.50 163.09,221.04 163.31,220.58 163.54,220.11 163.76,219.65 163.98,219.18 164.21,218.72 164.43,218.26 164.66,217.79 164.88,217.33 165.11,216.86 165.33,216.40 165.55,215.93 165.78,215.47 166.00,215.01 166.23,214.54 166.45,214.08 166.68,213.61 166.90,213.15 167.13,212.69 167.35,212.22 167.58,211.76 167.80,211.29 168.03,210.83 168.25,210.36 168.48,209.90 168.70,209.44 168.93,208.97 169.15,208.51 169.38,208.04 169.60,207.58 169.83,207.12 170.06,206.65 170.28,206.19 170.51,205.72 170.73,205.26 170.96,204.79 171.19,204.33 171.41,203.87 171.64,203.40 171.87,202.94 172.09,202.47 172.32,202.01 172.55,201.55 172.78,201.08 173.00,200.62 173.23,200.15 173.46,199.69 173.68,199.22 173.91,198.76 174.14,198.30 174.37,197.83 174.60,197.37 174.82,196.90 175.05,196.44 175.28,195.98 175.51,195.51 175.74,195.05 175.97,194.58 176.19,194.12 176.42,193.65 176.65,193.19 176.88,192.73 177.11,192.26 177.34,191.80 177.57,191.33 177.80,190.87 178.03,190.41 178.26,189.94 178.49,189.48 178.72,189.01 178.95,188.55 179.18,188.08 179.41,187.62 179.64,187.16 179.87,186.69 180.10,186.23 180.33,185.76 180.56,185.30 180.79,184.84 181.02,184.37 181.26,183.91 181.49,183.44 181.72,182.98 181.95,182.51 182.18,182.05 182.42,181.59 182.65,181.12 182.88,180.66 183.12,180.19 183.35,179.73 183.58,179.27 183.82,178.80 184.05,178.34 184.28,177.87 184.52,177.41 184.75,176.94 184.99,176.48 185.22,176.02 185.46,175.55 185.69,175.09 185.93,174.62 186.17,174.16 186.40,173.70 186.64,173.23 186.88,172.77 187.11,172.30 187.35,171.84 187.59,171.37 187.83,170.91 188.07,170.45 188.31,169.98 188.55,169.52 188.78,169.05 189.02,168.59 189.26,168.13 189.51,167.66 189.75,167.20 189.99,166.73 190.23,166.27 190.47,165.80 190.71,165.34 190.96,164.88 191.20,164.41 191.44,163.95 191.69,163.48 191.93,163.02 192.18,162.56 192.42,162.09 192.67,161.63 192.91,161.16 193.16,160.70 193.41,160.23 193.66,159.77 193.90,159.31 194.15,158.84 194.40,158.38 194.65,157.91 194.90,157.45 195.15,156.99 195.40,156.52 195.65,156.06 195.90,155.59 196.16,155.13 196.41,154.67 196.66,154.20 196.92,153.74 197.17,153.27 197.43,152.81 197.68,152.34 197.94,151.88 198.20,151.42 198.45,150.95 198.71,150.49 198.97,150.02 199.23,149.56 199.49,149.10 199.75,148.63 200.01,148.17 200.27,147.70 200.53,147.24 200.79,146.77 201.06,146.31 201.32,145.85 201.58,145.38 201.85,144.92 202.11,144.45 202.38,143.99 202.64,143.53 202.91,143.06 203.17,142.60 203.44,142.13 203.71,141.67 203.98,141.20 204.25,140.74 204.52,140.28 204.79,139.81 205.06,139.35 205.33,138.88 205.60,138.42 205.87,137.96 206.14,137.49 206.42,137.03 206.69,136.56 206.96,136.10 207.24,135.63 207.51,135.17 207.79,134.71 208.06,134.24 208.34,133.78 208.62,133.31 208.90,132.85 209.17,132.39 209.45,131.92 209.73,131.46 210.01,130.99 210.29,130.53 210.57,130.06 210.85,129.60 211.13,129.14 211.42,128.67 211.70,128.21 211.98,127.74 212.27,127.28 212.55,126.82 212.83,126.35 213.12,125.89 213.41,125.42 213.69,124.96 213.98,124.49 214.26,124.03 214.55,123.57 214.84,123.10 215.13,122.64 215.42,122.17 215.71,121.71 216.00,121.25 216.29,120.78 216.58,120.32 216.87,119.85 217.16,119.39 217.45,118.92 217.75,118.46 218.04,118.00 218.34,117.53 218.63,117.07 218.93,116.60 219.22,116.14 219.52,115.68 219.82,115.21 220.12,114.75 220.42,114.28 220.72,113.82 221.02,113.35 221.32,112.89 221.62,112.43 221.92,111.96 222.23,111.50 222.53,111.03 222.84,110.57 223.14,110.11 223.45,109.64 223.76,109.18 224.07,108.71 224.38,108.25 224.69,107.78 225.00,107.32 225.31,106.86 225.62,106.39 225.94,105.93 226.25,105.46 226.57,105.00 226.88,104.54 227.20,104.07 227.52,103.61 227.84,103.14 228.16,102.68 228.48,102.21 228.80,101.75 229.13,101.29 229.45,100.82 229.78,100.36 230.10,99.89 230.43,99.43 230.76,98.97 231.09,98.50 231.42,98.04 231.75,97.57 232.09,97.11 232.42,96.64 232.76,96.18 233.09,95.72 233.43,95.25 233.77,94.79 234.11,94.32 234.46,93.86 234.80,93.40 235.15,92.93 235.49,92.47 235.84,92.00 236.19,91.54 236.54,91.07 236.89,90.61 237.25,90.15 237.60,89.68 237.96,89.22 238.32,88.75 238.68,88.29 239.04,87.83 239.40,87.36 239.77,86.90 240.14,86.43 240.51,85.97 240.88,85.50 241.25,85.04 241.62,84.58 242.00,84.11 242.37,83.65 242.75,83.18 243.13,82.72 243.52,82.26 243.90,81.79 244.29,81.33 244.68,80.86 245.06,80.40 245.46,79.93 245.85,79.47 246.25,79.01 246.64,78.54 247.04,78.08 247.44,77.61 247.85,77.15 248.25,76.69 248.66,76.22 249.07,75.76 249.48,75.29 249.90,74.83 250.31,74.36 250.73,73.90 251.15,73.44 251.58,72.97 252.00,72.51 252.43,72.04 252.86,71.58 253.30,71.12 253.73,70.65 254.17,70.19 254.61,69.72 255.06,69.26 255.50,68.79 255.95,68.33 256.40,67.87 256.86,67.40 257.32,66.94 257.78,66.47 258.24,66.01 258.71,65.55 259.18,65.08 259.65,64.62 260.13,64.15 260.61,63.69 261.09,63.22 261.57,62.76 262.06,62.30 262.56,61.83 263.05,61.37 263.55,60.90 264.06,60.44 264.57,59.98 265.08,59.51 265.59,59.05 266.11,58.58 266.64,58.12 267.17,57.65 267.70,57.19 268.24,56.73 268.78,56.26 269.32,55.80 269.87,55.33 270.43,54.87 270.99,54.41 271.55,53.94 272.12,53.48 272.70,53.01 273.28,52.55 273.86,52.08 274.46,51.62 275.05,51.16 275.66,50.69 276.26,50.23 276.88,49.76 277.50,49.30 278.15,48.81 278.81,48.33 279.46,47.86 280.12,47.39 280.77,46.92 281.43,46.46 282.08,46.01 282.73,45.55 283.39,45.11 284.04,44.67 284.70,44.23 285.35,43.80 286.01,43.37 286.66,42.95 287.31,42.54 287.97,42.12 288.62,41.72 289.28,41.31 289.93,40.91 290.59,40.52 291.24,40.13 291.89,39.75 292.55,39.37 293.20,38.99 293.86,38.62 294.51,38.25 295.17,37.89 295.82,37.53 296.47,37.18 297.13,36.83 297.78,36.48 298.44,36.14 299.09,35.80 299.74,35.47 300.40,35.14 301.05,34.81 301.71,34.49 302.36,34.17 303.02,33.86 303.67,33.55 304.32,33.24 304.98,32.94 305.63,32.64 306.29,32.35 306.94,32.06 307.60,31.77 308.25,31.49 308.90,31.21 309.56,30.93 310.21,30.66 310.87,30.39 311.52,30.12 312.18,29.86 312.83,29.60 313.48,29.35 314.14,29.10 314.79,28.85 315.45,28.60 316.10,28.36 316.76,28.12 317.41,27.88 318.06,27.65 318.72,27.42 319.37,27.20 320.03,26.97 320.68,26.75 321.34,26.53 321.99,26.32 322.64,26.11 323.30,25.90 323.95,25.69 324.61,25.49 325.26,25.29 325.92,25.09 326.57,24.90 327.22,24.71 327.88,24.52 328.53,24.33 329.19,24.15 329.84,23.97 330.50,23.79 331.15,23.61 331.80,23.44 332.46,23.27 333.11,23.10 333.77,22.94 334.42,22.77 335.07,22.61 335.73,22.45 336.38,22.30 337.04,22.14 337.69,21.99 338.35,21.84 339.00,21.69 339.65,21.55 340.31,21.40 340.96,21.26 341.62,21.12 342.27,20.99 342.93,20.85 343.58,20.72 344.23,20.59 344.89,20.46 345.54,20.33 346.20,20.21 346.85,20.09 347.51,19.97 348.16,19.85 348.81,19.73 349.47,19.61 350.12,19.50 350.78,19.39 351.43,19.28 352.09,19.17 352.74,19.06 353.39,18.96 354.05,18.86 354.70,18.76 355.36,18.66 356.01,18.56 356.67,18.46 357.32,18.36 357.97,18.27 358.63,18.18 359.28,18.09 359.94,18.00 360.59,17.91 361.25,17.83 361.90,17.74 362.55,17.66 363.21,17.57 363.86,17.49 364.52,17.41 365.17,17.34 365.83,17.26 366.48,17.18 367.13,17.11 367.79,17.04 368.44,16.97 369.10,16.90 369.75,16.83 370.41,16.76 371.06,16.69 371.71,16.62 372.37,16.56 373.02,16.50 373.68,16.43 374.33,16.37 374.98,16.31 375.64,16.25 376.29,16.19 376.95,16.14 377.60,16.08 378.26,16.03 378.91,15.97 379.56,15.92 380.22,15.87 380.87,15.81 381.53,15.76 382.18,15.71 382.84,15.66 383.49,15.62 384.14,15.57 384.80,15.52 385.45,15.48 386.11,15.43 386.76,15.39 387.42,15.35 388.07,15.30 388.72,15.26 389.38,15.22 390.03,15.18 390.69,15.14 391.34,15.10 392.00,15.07 392.65,15.03 393.30,14.99 393.96,14.96 394.61,14.92 395.27,14.89 395.92,14.85 396.58,14.82 397.23,14.79 397.88,14.76 398.54,14.73 399.19,14.70 399.85,14.67 400.50,14.64 401.16,14.61 401.81,14.58 402.46,14.55 403.12,14.52 403.77,14.50 404.43,14.47 405.08,14.44 405.74,14.42 406.39,14.39 407.04,14.37 407.70,14.35 408.35,14.32 409.01,14.30 409.66,14.28 410.31,14.25 410.97,14.23 411.62,14.21 412.28,14.19 412.93,14.17 413.59,14.15 414.24,14.13 414.89,14.11 415.55,14.09 416.20,14.08 416.86,14.06 417.51,14.04 418.17,14.02 418.82,14.01 419.47,13.99 420.13,13.97 420.78,13.96 421.44,13.94 422.09,13.93 422.75,13.91 423.40,13.90 424.05,13.88 424.71,13.87 425.36,13.85 426.02,13.84 426.67,13.83 427.33,13.81 427.98,13.80 428.63,13.79 429.29,13.78 429.94,13.76 430.60,13.75 431.25,13.74 431.91,13.73 432.56,13.72 433.21,13.71 433.87,13.70 434.52,13.69 435.18,13.68 435.83,13.67 436.49,13.66 437.14,13.65 437.79,13.64 438.45,13.63 439.10,13.62 439.76,13.61 440.41,13.60 441.07,13.60 441.72,13.59 442.37,13.58 443.03,13.57 443.68,13.57 444.34,13.56 444.99,13.55 445.64,13.54 446.30,13.54 446.95,13.53 447.61,13.52 448.26,13.52 448.92,13.51 449.57,13.50 450.22,13.50 450.88,13.49 451.53,13.49 452.19,13.48 452.84,13.47 453.50,13.47 454.15,13.46 454.80,13.46 455.46,13.45 456.11,13.45 456.77,13.44 457.42,13.44 458.08,13.43 458.73,13.43 459.38,13.43 460.04,13.42 460.69,13.42 461.35,13.41 462.00,13.41 462.66,13.41 463.31,13.40 463.96,13.40 464.62,13.39 465.27,13.39 465.93,13.39 466.58,13.38 467.24,13.38 467.89,13.38 468.54,13.37 469.20,13.37 469.85,13.37 470.51,13.36 471.16,13.36 471.82,13.36 472.47,13.36 473.12,13.35 473.78,13.35 474.43,13.35 475.09,13.35 475.74,13.34 476.40,13.34 477.05,13.34 477.70,13.34 478.36,13.33 479.01,13.33 479.67,13.33 480.32,13.33 480.98,13.33 481.63,13.32 482.28,13.32 482.94,13.32 483.59,13.32 484.25,13.32 484.90,13.32 485.55,13.31 486.21,13.31 486.86,13.31 487.52,13.31 488.17,13.31 488.83,13.31 489.48,13.30 490.13,13.30 490.79,13.30 491.44,13.30 492.10,13.30 492.75,13.30 493.41,13.30 494.06,13.29 494.71,13.29 495.37,13.29 496.02,13.29 496.68,13.29 497.33,13.29 497.99,13.29 498.64,13.29 499.29,13.29 499.95,13.29 500.60,13.28 501.26,13.28 501.91,13.28 502.57,13.28 503.22,13.28 503.87,13.28 504.53,13.28 505.18,13.28 505.84,13.28 506.49,13.28 507.15,13.28 507.80,13.28 508.45,13.27 509.11,13.27 509.76,13.27 510.42,13.27 511.07,13.27 511.73,13.27 512.38,13.27 513.03,13.27 513.69,13.27 514.34,13.27 515.00,13.27 515.65,13.27 516.31,13.27 516.96,13.27 517.61,13.27 518.27,13.27 518.92,13.27 519.58,13.27 520.23,13.26 520.88,13.26 521.54,13.26 522.19,13.26 522.85,13.26 523.50,13.26 524.16,13.26 524.81,13.26 525.46,13.26 526.12,13.26 526.77,13.26 527.43,13.26 528.08,13.26 528.74,13.26 529.39,13.26 530.04,13.26 530.70,13.26 531.35,13.26 532.01,13.26 532.66,13.26 533.32,13.26 533.97,13.26 534.62,13.26 535.28,13.26 535.93,13.26 536.59,13.26 537.24,13.26 537.90,13.26 538.55,13.26 537.55,13.26" stroke="#4daf4a"/>
<polyline points="50.15,373.75 54.25,373.75 59.57,373.29 61.78,372.82 63.48,372.36 64.92,371.89 66.19,371.43 67.34,370.97 68.40,370.50 69.39,370.04 70.32,369.57 71.19,369.11 72.03,368.64 72.83,368.18 73.61,367.72 74.35,367.25 75.07,366.79 75.76,366.32 76.44,365.86 77.10,365.40 77.74,364.93 78.36,364.47 78.97,364.00 79.57,363.54 80.15,363.07 80.72,362.61 81.29,362.15 81.84,361.68 82.38,361.22 82.91,360.75 83.43,360.29 83.95,359.83 84.45,359.36 84.95,358.90 85.45,358.43 85.93,357.97 86.41,357.50 86.88,357.04 87.35,356.58 87.81,356.11 88.27,355.65 88.72,355.18 89.17,354.72 89.61,354.26 90.04,353.79 90.48,353.33 90.90,352.86 91.33,352.40 91.75,351.93 92.17,351.47 92.58,351.01 92.99,350.54 93.39,350.08 93.79,349.61 94.19,349.15 94.58,348.69 94.97,348.22 95.36,347.76 95.75,347.29 96.13,346.83 96.51,346.36 96.89,345.90 97.26,345.44 97.64,344.97 98.00,344.51 98.37,344.04 98.74,343.58 99.10,343.12 99.46,342.65 99.82,342.19 100.18,341.72 100.53,341.26 100.89,340.79 101.24,340.33 101.59,339.87 101.94,339.40 102.28,338.94 102.63,338.47 102.97,338.01 103.31,337.55 103.65,337.08 103.99,336.62 104.33,336.15 104.67,335.69 105.00,335.22 105.34,334.76 105.67,334.30 106.00,333.83 106.33,333.37 106.66,332.90 106.99,332.44 107.31,331.98 107.64,331.51 107.96,331.05 108.28,330.58 108.61,330.12 108.93,329.65 109.24,329.19 109.56,328.73 109.88,328.26 110.20,327.80 110.51,327.33 110.82,326.87 111.14,326.41 111.45,325.94 111.76,325.48 112.07,325.01 112.38,324.55 112.68,324.08 112.99,323.62 113.29,323.16 113.60,322.69 113.90,322.23 114.21,321.76 114.51,321.30 114.81,320.84 115.11,320.37 115.41,319.91 115.70,319.44 116.00,318.98 116.30,318.51 116.59,318.05 116.89,317.59 117.18,317.12 117.47,316.66 117.76,316.19 118.05,315.73 118.34,315.27 118.63,314.80 118.92,314.34 119.21,313.87 119.50,313.41 119.78,312.94 120.07,312.48 120.35,312.02 120.63,311.55 120.92,311.09 121.20,310.62 121.48,310.16 121.76,309.70 122.04,309.23 122.32,308.77 122.60,308.30 122.87,307.84 123.15,307.37 123.43,306.91 123.70,306.45 123.97,305.98 124.25,305.52 124.52,305.05 124.79,304.59 125.06,304.13 125.34,303.66 125.61,303.20 125.87,302.73 126.14,302.27 126.41,301.80 126.68,301.34 126.94,300.88 127.21,300.41 127.48,299.95 127.74,299.48 128.01,299.02 128.27,298.56 128.53,298.09 128.80,297.63 129.06,297.16 129.32,296.70 129.58,296.23 129.84,295.77 130.10,295.31 130.36,294.84 130.62,294.38 130.88,293.91 131.14,293.45 131.40,292.99 131.66,292.52 131.91,292.06 132.17,291.59 132.43,291.13 132.68,290.66 132.94,290.20 133.19,289.74 133.45,289.27 133.70,288.81 133.96,288.34 134.21,287.88 134.46,287.42 134.71,286.95 134.97,286.49 135.22,286.02 135.47,285.56 135.72,285.09 135.97,284.63 136.22,284.17 136.47,283.70 136.72,283.24 136.97,282.77 137.22,282.31 137.47,281.85 137.72,281.38 137.97,280.92 138.21,280.45 138.46,279.99 138.71,279.52 138.96,279.06 139.20,278.60 139.45,278.13 139.70,277.67 139.94,277.20 140.19,276.74 140.43,276.28 140.68,275.81 140.92,275.35 141.17,274.88 141.41,274.42 141.65,273.95 141.90,273.49 142.14,273.03 142.38,272.56 142.63,272.10 142.87,271.63 143.11,271.17 143.35,270.71 143.59,270.24 143.84,269.78 144.08,269.31 144.32,268.85 144.56,268.38 144.80,267.92 145.04,267.46 145.28,266.99 145.52,266.53 145.76,266.06 146.00,265.60 146.24,265.14 146.48,264.67 146.72,264.21 146.96,263.74 147.20,263.28 147.43,262.82 147.67,262.35 147.91,261.89 148.15,261.42 148.39,260.96 148.62,260.49 148.86,260.03 149.10,259.57 149.33,259.10 149.57,258.64 149.81,258.17 150.04,257.71 150.28,257.25 150.52,256.78 150.75,256.32 150.99,255.85 151.23,255.39 151.46,254.92 151.70,254.46 151.93,254.00 152.17,253.53 152.40,253.07 152.64,252.60 152.87,252.14 153.11,251.68 153.34,251.21 153.58,250.75 153.81,250.28 154.05,249.82 154.28,249.35 154.51,248.89 154.75,248.43 154.98,247.96 155.22,247.50 155.45,247.03 155.68,246.57 155.92,246.11 156.15,245.64 156.38,245.18 156.62,244.71 156.85,244.25 157.08,243.78 157.31,243.32 157.55,242.86 157.78,242.39 158.01,241.93 158.25,241.46 158.48,241.00 158.71,240.54 158.94,240.07 159.18,239.61 159.41,239.14 159.64,238.68 159.87,238.21 160.10,237.75 160.34,237.29 160.57,236.82 160.80,236.36 161.03,235.89 161.26,235.43 161.50,234.97 161.73,234.50 161.96,234.04 162.19,233.57 162.42,233.11 162.66,232.64 162.89,232.18 163.12,231.72 163.35,231.25 163.58,230.79 163.81,230.32 164.05,229.86 164.28,229.40 164.51,228.93 164.74,228.47 164.97,228.00 165.20,227.54 165.43,227.07 165.66,226.61 165.90,226.15 166.13,225.68 166.36,225.22 166.59,224.75 166.82,224.29 167.05,223.83 167.28,223.36 167.51,222.90 167.74,222.43 167.97,221.97 168.20,221.50 168.44,221.04 168.67,220.58 168.90,220.11 169.13,219.65 169.36,219.18 169.59,218.72 169.82,218.26 170.05,217.79 170.28,217.33 170.51,216.86 170.74,216.40 170.97,215.93 171.21,215.47 171.44,215.01 171.67,214.54 171.90,214.08 172.13,213.61 172.36,213.15 172.59,212.69 172.82,212.22 173.06,211.76 173.29,211.29 173.52,210.83 173.75,210.36 173.98,209.90 174.22,209.44 174.45,208.97 174.68,208.51 174.91,208.04 175.15,207.58 175.38,207.12 175.61,206.65 175.85,206.19 176.08,205.72 176.31,205.26 176.55,204.79 176.78,204.33 177.01,203.87 177.25,203.40 177.48,202.94 177.72,202.47 177.95,202.01 178.19,201.55 178.42,201.08 178.66,200.62 178.89,200.15 179.13,199.69 179.37,199.22 179.60,198.76 179.84,198.30 180.08,197.83 180.31,197.37 180.55,196.90 180.79,196.44 181.03,195.98 181.26,195.51 181.50,195.05 181.74,194.58 181.98,194.12 182.22,193.65 182.46,193.19 182.70,192.73 182.94,192.26 183.18,191.80 183.42,191.33 183.66,190.87 183.90,190.41 184.15,189.94 184.39,189.48 184.63,189.01 184.87,188.55 185.12,188.08 185.36,187.62 185.60,187.16 185.85,186.69 186.09,186.23 186.34,185.76 186.58,185.30 186.83,184.84 187.07,184.37 187.32,183.91 187.56,183.44 187.81,182.98 188.06,182.51 188.30,182.05 188.55,181.59 188.80,181.12 189.05,180.66 189.30,180.19 189.54,179.73 189.79,179.27 190.04,178.80 190.29,178.34 190.54,177.87 190.79,177.41 191.04,176.94 191.29,176.48 191.54,176.02 191.79,175.55 192.04,175.09 192.30,174.62 192.55,174.16 192.80,173.70 193.05,173.23 193.31,172.77 193.56,172.30 193.81,171.84 194.07,171.37 194.32,170.91 194.57,170.45 194.83,169.98 195.08,169.52 195.34,169.05 195.59,168.59 195.85,168.13 196.10,167.66 196.36,167.20 196.62,166.73 196.87,166.27 197.13,165.80 197.39,165.34 197.64,164.88 197.90,164.41 198.16,163.95 198.42,163.48 198.68,163.02 198.94,162.56 199.20,162.09 199.45,161.63 199.71,161.16 199.97,160.70 200.23,160.23 200.49,159.77 200.75,159.31 201.02,158.84 201.28,158.38 201.54,157.91 201.80,157.45 202.06,156.99 202.32,156.52 202.59,156.06 202.85,155.59 203.11,155.13 203.38,154.67 203.64,154.20 203.90,153.74 204.17,153.27 204.43,152.81 204.70,152.34 204.96,151.88 205.23,151.42 205.49,150.95 205.76,150.49 206.03,150.02 206.29,149.56 206.56,149.10 206.83,148.63 207.10,148.17 207.37,147.70 207.64,147.24 207.91,146.77 208.18,146.31 208.45,145.85 208.72,145.38 208.99,144.92 209.26,144.45 209.53,143.99 209.80,143.53 210.08,143.06 210.35,142.60 210.63,142.13 210.90,141.67 211.17,141.20 211.45,140.74 211.73,140.28 212.00,139.81 212.28,139.35 212.56,138.88 212.84,138.42 213.11,137.96 213.39,137.49 213.67,137.03 213.95,136.56 214.24,136.10 214.52,135.63 214.80,135.17 215.08,134.71 215.37,134.24 215.65,133.78 215.94,133.31 216.22,132.85 216.51,132.39 216.79,131.92 217.08,131.46 217.37,130.99 217.66,130.53 217.95,130.06 218.24,129.60 218.53,129.14 218.82,128.67 219.11,128.21 219.41,127.74 219.70,127.28 220.00,126.82 220.29,126.35 220.59,125.89 220.89,125.42 221.18,124.96 221.48,124.49 221.78,124.03 222.08,123.57 222.39,123.10 222.69,122.64 222.99,122.17 223.30,121.71 223.60,121.25 223.91,120.78 224.22,120.32 224.52,119.85 224.83,119.39 225.14,118.92 225.45,118.46 225.77,118.00 226.08,117.53 226.39,117.07 226.71,116.60 227.02,116.14 227.34,115.68 227.66,115.21 227.98,114.75 228.30,114.28 228.62,113.82 228.94,113.35 229.26,112.89 229.59,112.43 229.91,111.96 230.24,111.50 230.57,111.03 230.90,110.57 231.22,110.11 231.56,109.64 231.89,109.18 232.22,108.71 232.55,108.25 232.89,107.78 233.22,107.32 233.56,106.86 233.90,106.39 234.24,105.93 234.58,105.46 234.92,105.00 235.26,104.54 235.61,104.07 235.95,103.61 236.30,103.14 236.64,102.68 236.99,102.21 237.34,101.75 237.69,101.29 238.04,100.82 238.40,100.36 238.75,99.89 239.11,99.43 239.46,98.97 239.82,98.50 240.18,98.04 240.54,97.57 240.90,97.11 241.27,96.64 241.63,96.18 241.99,95.72 242.36,95.25 242.73,94.79 243.10,94.32 243.47,93.86 243.84,93.40 244.21,92.93 244.59,92.47 244.96,92.00 245.34,91.54 245.72,91.07 246.10,90.61 246.48,90.15 246.86,89.68 247.25,89.22 247.63,88.75 248.02,88.29 248.41,87.83 248.80,87.36 249.19,86.90 249.58,86.43 249.97,85.97 250.37,85.50 250.76,85.04 251.16,84.58 251.56,84.11 251.96,83.65 252.37,83.18 252.77,82.72 253.18,82.26 253.59,81.79 254.00,81.33 254.41,80.86 254.82,80.40 255.24,79.93 255.66,79.47 256.08,79.01 256.50,78.54 256.92,78.08 257.35,77.61 257.78,77.15 258.21,76.69 258.64,76.22 259.07,75.76 259.51,75.29 259.95,74.83 260.39,74.36 260.83,73.90 261.28,73.44 261.72,72.97 262.17,72.51 262.63,72.04 263.08,71.58 263.54,71.12 264.00,70.65 264.46,70.19 264.93,69.72 265.40,69.26 265.87,68.79 266.34,68.33 266.82,67.87 267.30,67.40 267.78,66.94 268.27,66.47 268.75,66.01 269.25,65.55 269.74,65.08 270.24,64.62 270.74,64.15 271.24,63.69 271.75,63.22 272.26,62.76 272.78,62.30 273.30,61.83 273.82,61.37 274.35,60.90 274.88,60.44 275.41,59.98 275.95,59.51 276.49,59.05 277.04,58.58 277.59,58.12 278.14,57.65 278.70,57.19 279.27,56.73 279.83,56.26 280.41,55.80 280.99,55.33 281.57,54.87 282.16,54.41 282.75,53.94 283.35,53.48 283.95,53.01 284.56,52.55 285.18,52.08 285.80,51.62 286.43,51.16 287.06,50.69 287.70,50.23 288.35,49.76 289.00,49.30 289.63,48.86 290.25,48.42 290.88,47.99 291.50,47.56 292.13,47.14 292.75,46.72 293.38,46.31 294.00,45.90 294.63,45.49 295.25,45.09 295.88,44.69 296.51,44.29 297.13,43.90 297.76,43.51 298.38,43.13 299.01,42.75 299.63,42.38 300.26,42.01 300.88,41.64 301.51,41.27 302.13,40.91 302.76,40.56 303.39,40.20 304.01,39.85 304.64,39.51 305.26,39.17 305.89,38.83 306.51,38.49 307.14,38.16 307.76,37.84 308.39,37.51 309.01,37.19 309.64,36.88 310.26,36.56 310.89,36.25 311.52,35.94 312.14,35.64 312.77,35.34 313.39,35.04 314.02,34.75 314.64,34.46 315.27,34.17 315.89,33.89 316.52,33.61 317.14,33.33 317.77,33.06 318.40,32.79 319.02,32.52 319.65,32.25 320.27,31.99 320.90,31.73 321.52,31.48 322.15,31.22 322.77,30.97 323.40,30.72 324.02,30.48 324.65,30.24 325.28,30.00 325.90,29.76 326.53,29.53 327.15,29.30 327.78,29.07 328.40,28.85 329.03,28.63 329.65,28.41 330.28,28.19 330.90,27.97 331.53,27.76 332.16,27.55 332.78,27.35 333.41,27.14 334.03,26.94 334.66,26.74 335.28,26.55 335.91,26.35 336.53,26.16 337.16,25.97 337.78,25.78 338.41,25.60 339.04,25.42 339.66,25.24 340.29,25.06 340.91,24.88 341.54,24.71 342.16,24.54 342.79,24.37 343.41,24.20 344.04,24.04 344.66,23.88 345.29,23.72 345.91,23.56 346.54,23.40 347.17,23.25 347.79,23.10 348.42,22.95 349.04,22.80 349.67,22.65 350.29,22.51 350.92,22.36 351.54,22.22 352.17,22.09 352.79,21.95 353.42,21.81 354.05,21.68 354.67,21.55 355.30,21.42 355.92,21.29 356.55,21.17 357.17,21.04 357.80,20.92 358.42,20.80 359.05,20.68 359.67,20.56 360.30,20.45 360.93,20.33 361.55,20.22 362.18,20.11 362.80,20.00 363.43,19.89 364.05,19.78 364.68,19.68 365.30,19.57 365.93,19.47 366.55,19.37 367.18,19.27 367.81,19.17 368.43,19.08 369.06,18.98 369.68,18.89 370.31,18.80 370.93,18.71 371.56,18.62 372.18,18.53 372.81,18.44 373.43,18.35 374.06,18.27 374.69,18.19 375.31,18.10 375.94,18.02 376.56,17.94 377.19,17.86 377.81,17.79 378.44,17.71 379.06,17.64 379.69,17.56 380.31,17.49 380.94,17.42 381.56,17.35 382.19,17.28 382.82,17.21 383.44,17.14 384.07,17.07 384.69,17.01 385.32,16.94 385.94,16.88 386.57,16.82 387.19,16.76 387.82,16.70 388.44,16.64 389.07,16.58 389.70,16.52 390.32,16.46 390.95,16.41 391.57,16.35 392.20,16.30 392.82,16.24 393.45,16.19 394.07,16.14 394.70,16.09 395.32,16.04 395.95,15.99 396.58,15.94 397.20,15.89 397.83,15.85 398.45,15.80 399.08,15.75 399.70,15.71 400.33,15.67 400.95,15.62 401.58,15.58 402.20,15.54 402.83,15.50 403.46,15.46 404.08,15.42 404.71,15.38 405.33,15.34 405.96,15.30 406.58,15.26 407.21,15.23 407.83,15.19 408.46,15.15 409.08,15.12 409.71,15.08 410.34,15.05 410.96,15.02 411.59,14.98 412.21,14.95 412.84,14.92 413.46,14.89 414.09,14.86 414.71,14.83 415.34,14.80 415.96,14.77 416.59,14.74 417.21,14.71 417.84,14.69 418.47,14.66 419.09,14.63 419.72,14.61 420.34,14.58 420.97,14.56 421.59,14.53 422.22,14.51 422.84,14.48 423.47,14.46 424.09,14.44 424.72,14.41 425.35,14.39 425.97,14.37 426.60,14.35 427.22,14.33 427.85,14.30 428.47,14.28 429.10,14.26 429.72,14.24 430.35,14.23 430.97,14.21 431.60,14.19 432.23,14.17 432.85,14.15 433.48,14.13 434.10,14.12 434.73,14.10 435.35,14.08 435.98,14.07 436.60,14.05 437.23,14.03 437.85,14.02 438.48,14.00 439.11,13.99 439.73,13.97 440.36,13.96 440.98,13.94 441.61,13.93 442.23,13.92 442.86,13.90 443.48,13.89 444.11,13.88 444.73,13.86 445.36,13.85 445.99,13.84 446.61,13.83 447.24,13.82 447.86,13.80 448.49,13.79 449.11,13.78 449.74,13.77 450.36,13.76 450.99,13.75 451.61,13.74 452.24,13.73 452.86,13.72 453.49,13.71 454.12,13.70 454.74,13.69 455.37,13.68 455.99,13.67 456.62,13.66 457.24,13.66 457.87,13.65 458.49,13.64 459.12,13.63 459.74,13.62 460.37,13.62 461.00,13.61 461.62,13.60 462.25,13.59 462.87,13.59 463.50,13.58 464.12,13.57 464.75,13.56 465.37,13.56 466.00,13.55 466.62,13.54 467.25,13.54 467.88,13.53 468.50,13.53 469.13,13.52 469.75,13.51 470.38,13.51 471.00,13.50 471.63,13.50 472.25,13.49 472.88,13.49 473.50,13.48 474.13,13.48 474.76,13.47 475.38,13.47 476.01,13.46 476.63,13.46 477.26,13.45 477.88,13.45 478.51,13.44 479.13,13.44 479.76,13.44 480.38,13.43 481.01,13.43 481.64,13.42 482.26,13.42 482.89,13.42 483.51,13.41 484.14,13.41 484.76,13.41 485.39,13.40 486.01,13.40 486.64,13.40 487.26,13.39 487.89,13.39 488.51,13.39 489.14,13.38 489.77,13.38 490.39,13.38 491.02,13.37 491.64,13.37 492.27,13.37 492.89,13.37 493.52,13.36 494.14,13.36 494.77,13.36 495.39,13.36 496.02,13.35 496.65,13.35 497.27,13.35 497.90,13.35 498.52,13.34 499.15,13.34 499.77,13.34 500.40,13.34 501.02,13.34 501.65,13.33 502.27,13.33 502.90,13.33 503.53,13.33 504.15,13.33 504.78,13.32 505.40,13.32 506.03,13.32 506.65,13.32 507.28,13.32 507.90,13.32 508.53,13.31 509.15,13.31 509.78,13.31 510.41,13.31 511.03,13.31 511.66,13.31 512.28,13.31 512.91,13.30 513.53,13.30 514.16,13.30 514.78,13.30 515.41,13.30 516.03,13.30 516.66,13.30 517.29,13.30 517.91,13.29 518.54,13.29 519.16,13.29 519.79,13.29 520.41,13.29 521.04,13.29 521.66,13.29 522.29,13.29 522.91,13.29 523.54,13.29 524.16,13.29 524.79,13.28 525.42,13.28 526.04,13.28 526.67,13.28 527.29,13.28 527.92,13.28 528.54,13.28 529.17,13.28 529.79,13.28 530.42,13.28 531.04,13.28 531.67,13.28 532.30,13.28 532.92,13.27 533.55,13.27 534.17,13.27 534.80,13.27 535.42,13.27 536.05,13.27 536.67,13.27 537.30,13.27 537.92,13.27 538.55,13.27 537.55,13.27" stroke="#984ea3"/>
<polyline points="50.15,373.75 52.15,373.75 56.09,373.29 58.16,372.82 59.75,372.36 61.08,371.89 62.26,371.43 63.32,370.97 64.30,370.50 65.20,370.04 66.06,369.57 66.87,369.11 67.63,368.64 68.37,368.18 69.07,367.72 69.75,367.25 70.40,366.79 71.03,366.32 71.65,365.86 72.24,365.40 72.82,364.93 73.38,364.47 73.93,364.00 74.47,363.54 74.99,363.07 75.51,362.61 76.01,362.15 76.50,361.68 76.99,361.22 77.47,360.75 77.94,360.29 78.40,359.83 78.86,359.36 79.31,358.90 79.76,358.43 80.20,357.97 80.63,357.50 81.06,357.04 81.48,356.58 81.89,356.11 82.30,355.65 82.70,355.18 83.09,354.72 83.47,354.26 83.85,353.79 84.23,353.33 84.59,352.86 84.95,352.40 85.30,351.93 85.65,351.47 85.98,351.01 86.32,350.54 86.64,350.08 86.96,349.61 87.28,349.15 87.59,348.69 87.90,348.22 88.20,347.76 88.50,347.29 88.80,346.83 89.09,346.36 89.38,345.90 89.67,345.44 89.95,344.97 90.24,344.51 90.52,344.04 90.80,343.58 91.08,343.12 91.36,342.65 91.63,342.19 91.91,341.72 92.19,341.26 92.46,340.79 92.74,340.33 93.01,339.87 93.29,339.40 93.56,338.94 93.84,338.47 94.12,338.01 94.39,337.55 94.67,337.08 94.95,336.62 95.22,336.15 95.50,335.69 95.77,335.22 96.05,334.76 96.32,334.30 96.59,333.83 96.87,333.37 97.14,332.90 97.41,332.44 97.68,331.98 97.95,331.51 98.22,331.05 98.49,330.58 98.76,330.12 99.03,329.65 99.30,329.19 99.57,328.73 99.83,328.26 100.10,327.80 100.36,327.33 100.63,326.87 100.89,326.41 101.16,325.94 101.42,325.48 101.68,325.01 101.94,324.55 102.21,324.08 102.47,323.62 102.73,323.16 102.98,322.69 103.24,322.23 103.50,321.76 103.76,321.30 104.01,320.84 104.27,320.37 104.53,319.91 104.78,319.44 105.03,318.98 105.29,318.51 105.54,318.05 105.79,317.59 106.04,317.12 106.29,316.66 106.54,316.19 106.79,315.73 107.04,315.27 107.29,314.80 107.54,314.34 107.78,313.87 108.03,313.41 108.27,312.94 108.52,312.48 108.76,312.02 109.00,311.55 109.24,311.09 109.48,310.62 109.73,310.16 109.97,309.70 110.20,309.23 110.44,308.77 110.68,308.30 110.92,307.84 111.15,307.37 111.39,306.91 111.62,306.45 111.86,305.98 112.09,305.52 112.32,305.05 112.55,304.59 112.78,304.13 113.01,303.66 113.24,303.20 113.47,302.73 113.70,302.27 113.92,301.80 114.15,301.34 114.38,300.88 114.60,300.41 114.83,299.95 115.05,299.48 115.27,299.02 115.50,298.56 115.72,298.09 115.94,297.63 116.16,297.16 116.39,296.70 116.61,296.23 116.83,295.77 117.05,295.31 117.27,294.84 117.49,294.38 117.71,293.91 117.93,293.45 118.14,292.99 118.36,292.52 118.58,292.06 118.80,291.59 119.01,291.13 119.23,290.66 119.45,290.20 119.66,289.74 119.88,289.27 120.09,288.81 120.31,288.34 120.52,287.88 120.74,287.42 120.95,286.95 121.16,286.49 121.38,286.02 121.59,285.56 121.80,285.09 122.01,284.63 122.23,284.17 122.44,283.70 122.65,283.24 122.86,282.77 123.07,282.31 123.28,281.85 123.49,281.38 123.70,280.92 123.91,280.45 124.12,279.99 124.33,279.52 124.54,279.06 124.75,278.60 124.96,278.13 125.16,277.67 125.37,277.20 125.58,276.74 125.79,276.28 126.00,275.81 126.20,275.35 126.41,274.88 126.62,274.42 126.82,273.95 127.03,273.49 127.23,273.03 127.44,272.56 127.64,272.10 127.85,271.63 128.05,271.17 128.26,270.71 128.46,270.24 128.67,269.78 128.87,269.31 129.08,268.85 129.28,268.38 129.48,267.92 129.69,267.46 129.89,266.99 130.09,266.53 130.30,266.06 130.50,265.60 130.70,265.14 130.91,264.67 131.11,264.21 131.31,263.74 131.51,263.28 131.71,262.82 131.92,262.35 132.12,261.89 132.32,261.42 132.52,260.96 132.72,260.49 132.92,260.03 133.12,259.57 133.32,259.10 133.52,258.64 133.72,258.17 133.92,257.71 134.13,257.25 134.33,256.78 134.53,256.32 134.73,255.85 134.92,255.39 135.12,254.92 135.32,254.46 135.52,254.00 135.72,253.53 135.92,253.07 136.12,252.60 136.32,252.14 136.52,251.68 136.72,251.21 136.92,250.75 137.12,250.28 137.31,249.82 137.51,249.35 137.71,248.89 137.91,248.43 138.11,247.96 138.30,247.50 138.50,247.03 138.70,246.57 138.90,246.11 139.10,245.64 139.29,245.18 139.49,244.71 139.69,244.25 139.89,243.78 140.08,243.32 140.28,242.86 140.48,242.39 140.67,241.93 140.87,241.46 141.07,241.00 141.26,240.54 141.46,240.07 141.66,239.61 141.85,239.14 142.05,238.68 142.25,238.21 142.44,237.75 142.64,237.29 142.84,236.82 143.03,236.36 143.23,235.89 143.42,235.43 143.62,234.97 143.81,234.50 144.01,234.04 144.21,233.57 144.40,233.11 144.60,232.64 144.79,232.18 144.99,231.72 145.18,231.25 145.38,230.79 145.57,230.32 145.77,229.86 145.97,229.40 146.16,228.93 146.36,228.47 146.55,228.00 146.75,227.54 146.94,227.07 147.13,226.61 147.33,226.15 147.52,225.68 147.72,225.22 147.91,224.75 148.11,224.29 148.30,223.83 148.50,223.36 148.69,222.90 148.89,222.43 149.08,221.97 149.28,221.50 149.47,221.04 149.66,220.58 149.86,220.11 150.05,219.65 150.25,219.18 150.44,218.72 150.64,218.26 150.83,217.79 151.03,217.33 151.22,216.86 151.41,216.40 151.61,215.93 151.80,215.47 152.00,215.01 152.19,214.54 152.39,214.08 152.58,213.61 152.78,213.15 152.97,212.69 153.17,212.22 153.36,211.76 153.56,211.29 153.75,210.83 153.95,210.36 154.14,209.90 154.34,209.44 154.53,208.97 154.73,208.51 154.92,208.04 155.12,207.58 155.31,207.12 155.51,206.65 155.70,206.19 155.90,205.72 156.09,205.26 156.29,204.79 156.49,204.33 156.68,203.87 156.88,203.40 157.08,202.94 157.27,202.47 157.47,202.01 157.67,201.55 157.86,201.08 158.06,200.62 158.26,200.15 158.45,199.69 158.65,199.22 158.85,198.76 159.05,198.30 159.24,197.83 159.44,197.37 159.64,196.90 159.84,196.44 160.04,195.98 160.24,195.51 160.44,195.05 160.63,194.58 160.83,194.12 161.03,193.65 161.23,193.19 161.43,192.73 161.63,192.26 161.83,191.80 162.03,191.33 162.23,190.87 162.44,190.41 162.64,189.94 162.84,189.48 163.04,189.01 163.24,188.55 163.44,188.08 163.64,187.62 163.85,187.16 164.05,186.69 164.25,186.23 164.45,185.76 164.66,185.30 164.86,184.84 165.06,184.37 165.27,183.91 165.47,183.44 165.68,182.98 165.88,182.51 166.08,182.05 166.29,181.59 166.49,181.12 166.70,180.66 166.90,180.19 167.11,179.73 167.32,179.27 167.52,178.80 167.73,178.34 167.93,177.87 168.14,177.41 168.35,176.94 168.55,176.48 168.76,176.02 168.97,175.55 169.17,175.09 169.38,174.62 169.59,174.16 169.80,173.70 170.01,173.23 170.21,172.77 170.42,172.30 170.63,171.84 170.84,171.37 171.05,170.91 171.26,170.45 171.47,169.98 171.68,169.52 171.89,169.05 172.10,168.59 172.31,168.13 172.52,167.66 172.73,167.20 172.94,166.73 173.15,166.27 173.36,165.80 173.58,165.34 173.79,164.88 174.00,164.41 174.21,163.95 174.42,163.48 174.64,163.02 174.85,162.56 175.06,162.09 175.27,161.63 175.49,161.16 175.70,160.70 175.91,160.23 176.13,159.77 176.34,159.31 176.56,158.84 176.77,158.38 176.99,157.91 177.20,157.45 177.41,156.99 177.63,156.52 177.85,156.06 178.06,155.59 178.28,155.13 178.49,154.67 178.71,154.20 178.92,153.74 179.14,153.27 179.36,152.81 179.57,152.34 179.79,151.88 180.01,151.42 180.23,150.95 180.44,150.49 180.66,150.02 180.88,149.56 181.10,149.10 181.32,148.63 181.54,148.17 181.76,147.70 181.97,147.24 182.19,146.77 182.41,146.31 182.64,145.85 182.86,145.38 183.08,144.92 183.30,144.45 183.52,143.99 183.74,143.53 183.97,143.06 184.19,142.60 184.41,142.13 184.63,141.67 184.86,141.20 185.08,140.74 185.31,140.28 185.53,139.81 185.76,139.35 185.98,138.88 186.21,138.42 186.44,137.96 186.67,137.49 186.89,137.03 187.12,136.56 187.35,136.10 187.58,135.63 187.81,135.17 188.04,134.71 188.27,134.24 188.50,133.78 188.73,133.31 188.97,132.85 189.20,132.39 189.43,131.92 189.67,131.46 189.90,130.99 190.14,130.53 190.37,130.06 190.61,129.60 190.85,129.14 191.08,128.67 191.32,128.21 191.56,127.74 191.80,127.28 192.04,126.82 192.28,126.35 192.52,125.89 192.77,125.42 193.01,124.96 193.25,124.49 193.50,124.03 193.74,123.57 193.99,123.10 194.24,122.64 194.49,122.17 194.73,121.71 194.98,121.25 195.23,120.78 195.48,120.32 195.74,119.85 195.99,119.39 196.24,118.92 196.50,118.46 196.75,118.00 197.01,117.53 197.26,117.07 197.52,116.60 197.78,116.14 198.04,115.68 198.30,115.21 198.56,114.75 198.82,114.28 199.08,113.82 199.34,113.35 199.61,112.89 199.87,112.43 200.14,111.96 200.41,111.50 200.67,111.03 200.94,110.57 201.21,110.11 201.48,109.64 201.75,109.18 202.02,108.71 202.29,108.25 202.57,107.78 202.84,107.32 203.12,106.86 203.39,106.39 203.67,105.93 203.95,105.46 204.23,105.00 204.51,104.54 204.79,104.07 205.07,103.61 205.35,103.14 205.64,102.68 205.92,102.21 206.21,101.75 206.50,101.29 206.78,100.82 207.07,100.36 207.36,99.89 207.65,99.43 207.94,98.97 208.24,98.50 208.53,98.04 208.83,97.57 209.12,97.11 209.42,96.64 209.72,96.18 210.02,95.72 210.32,95.25 210.62,94.79 210.92,94.32 211.23,93.86 211.53,93.40 211.84,92.93 212.14,92.47 212.45,92.00 212.76,91.54 213.07,91.07 213.38,90.61 213.70,90.15 214.01,89.68 214.32,89.22 214.64,88.75 214.96,88.29 215.28,87.83 215.60,87.36 215.92,86.90 216.24,86.43 216.57,85.97 216.89,85.50 217.22,85.04 217.55,84.58 217.88,84.11 218.21,83.65 218.54,83.18 218.87,82.72 219.21,82.26 219.55,81.79 219.89,81.33 220.23,80.86 220.57,80.40 220.91,79.93 221.26,79.47 221.61,79.01 221.96,78.54 222.31,78.08 222.66,77.61 223.02,77.15 223.37,76.69 223.73,76.22 224.09,75.76 224.45,75.29 224.82,74.83 225.18,74.36 225.55,73.90 225.92,73.44 226.30,72.97 226.67,72.51 227.05,72.04 227.43,71.58 227.81,71.12 228.19,70.65 228.58,70.19 228.96,69.72 229.35,69.26 229.74,68.79 230.14,68.33 230.54,67.87 230.94,67.40 231.34,66.94 231.74,66.47 232.15,66.01 232.56,65.55 232.97,65.08 233.39,64.62 233.80,64.15 234.22,63.69 234.65,63.22 235.07,62.76 235.50,62.30 235.93,61.83 236.37,61.37 236.80,60.90 237.24,60.44 237.69,59.98 238.14,59.51 238.59,59.05 239.04,58.58 239.50,58.12 239.96,57.65 240.42,57.19 240.89,56.73 241.36,56.26 241.83,55.80 242.31,55.33 242.79,54.87 243.28,54.41 243.77,53.94 244.26,53.48 244.76,53.01 245.26,52.55 245.77,52.08 246.28,51.62 246.79,51.16 247.31,50.69 247.84,50.23 248.37,49.76 248.90,49.30 249.63,48.68 250.35,48.07 251.08,47.47 251.80,46.88 252.53,46.30 253.26,45.72 253.98,45.15 254.71,44.59 255.43,44.04 256.16,43.49 256.89,42.96 257.61,42.43 258.34,41.90 259.06,41.39 259.79,40.88 260.52,40.38 261.24,39.89 261.97,39.40 262.69,38.92 263.42,38.45 264.14,37.99 264.87,37.53 265.60,37.08 266.32,36.64 267.05,36.20 267.77,35.77 268.50,35.35 269.23,34.93 269.95,34.52 270.68,34.11 271.40,33.72 272.13,33.32 272.86,32.94 273.58,32.56 274.31,32.19 275.03,31.82 275.76,31.46 276.49,31.10 277.21,30.75 277.94,30.41 278.66,30.07 279.39,29.74 280.12,29.41 280.84,29.09 281.57,28.77 282.29,28.46 283.02,28.15 283.75,27.85 284.47,27.56 285.20,27.27 285.92,26.98 286.65,26.70 287.37,26.43 288.10,26.15 288.83,25.89 289.55,25.63 290.28,25.37 291.00,25.12 291.73,24.87 292.46,24.63 293.18,24.39 293.91,24.15 294.63,23.92 295.36,23.70 296.09,23.47 296.81,23.25 297.54,23.04 298.26,22.83 298.99,22.62 299.72,22.42 300.44,22.22 301.17,22.03 301.89,21.84 302.62,21.65 303.35,21.46 304.07,21.28 304.80,21.11 305.52,20.93 306.25,20.76 306.98,20.60 307.70,20.43 308.43,20.27 309.15,20.11 309.88,19.96 310.60,19.81 311.33,19.66 312.06,19.51 312.78,19.37 313.51,19.23 314.23,19.09 314.96,18.96 315.69,18.83 316.41,18.70 317.14,18.57 317.86,18.45 318.59,18.33 319.32,18.21 320.04,18.09 320.77,17.98 321.49,17.87 322.22,17.76 322.95,17.65 323.67,17.55 324.40,17.45 325.12,17.35 325.85,17.25 326.58,17.15 327.30,17.06 328.03,16.97 328.75,16.88 329.48,16.79 330.21,16.70 330.93,16.62 331.66,16.54 332.38,16.46 333.11,16.38 333.83,16.30 334.56,16.22 335.29,16.15 336.01,16.08 336.74,16.01 337.46,15.94 338.19,15.87 338.92,15.81 339.64,15.74 340.37,15.68 341.09,15.62 341.82,15.56 342.55,15.50 343.27,15.44 344.00,15.39 344.72,15.33 345.45,15.28 346.18,15.23 346.90,15.17 347.63,15.12 348.35,15.08 349.08,15.03 349.81,14.98 350.53,14.94 351.26,14.89 351.98,14.85 352.71,14.81 353.44,14.77 354.16,14.73 354.89,14.69 355.61,14.65 356.34,14.61 357.07,14.58 357.79,14.54 358.52,14.51 359.24,14.47 359.97,14.44 360.69,14.41 361.42,14.37 362.15,14.34 362.87,14.31 363.60,14.29 364.32,14.26 365.05,14.23 365.78,14.20 366.50,14.18 367.23,14.15 367.95,14.13 368.68,14.10 369.41,14.08 370.13,14.05 370.86,14.03 371.58,14.01 372.31,13.99 373.04,13.97 373.76,13.95 374.49,13.93 375.21,13.91 375.94,13.89 376.67,13.87 377.39,13.85 378.12,13.84 378.84,13.82 379.57,13.80 380.30,13.79 381.02,13.77 381.75,13.76 382.47,13.74 383.20,13.73 383.92,13.71 384.65,13.70 385.38,13.69 386.10,13.67 386.83,13.66 387.55,13.65 388.28,13.64 389.01,13.63 389.73,13.62 390.46,13.61 391.18,13.59 391.91,13.58 392.64,13.57 393.36,13.56 394.09,13.56 394.81,13.55 395.54,13.54 396.27,13.53 396.99,13.52 397.72,13.51 398.44,13.50 399.17,13.50 399.90,13.49 400.62,13.48 401.35,13.47 402.07,13.47 402.80,13.46 403.53,13.45 404.25,13.45 404.98,13.44 405.70,13.44 406.43,13.43 407.15,13.42 407.88,13.42 408.61,13.41 409.33,13.41 410.06,13.40 410.78,13.40 411.51,13.39 412.24,13.39 412.96,13.39 413.69,13.38 414.41,13.38 415.14,13.37 415.87,13.37 416.59,13.36 417.32,13.36 418.04,13.36 418.77,13.35 419.50,13.35 420.22,13.35 420.95,13.34 421.67,13.34 422.40,13.34 423.13,13.34 423.85,13.33 424.58,13.33 425.30,13.33 426.03,13.32 426.76,13.32 427.48,13.32 428.21,13.32 428.93,13.32 429.66,13.31 430.38,13.31 431.11,13.31 431.84,13.31 432.56,13.31 433.29,13.30 434.01,13.30 434.74,13.30 435.47,13.30 436.19,13.30 436.92,13.29 437.64,13.29 438.37,13.29 439.10,13.29 439.82,13.29 440.55,13.29 441.27,13.29 442.00,13.29 442.73,13.28 443.45,13.28 444.18,13.28 444.90,13.28 445.63,13.28 446.36,13.28 447.08,13.28 447.81,13.28 448.53,13.28 449.26,13.27 449.99,13.27 450.71,13.27 451.44,13.27 452.16,13.27 452.89,13.27 453.62,13.27 454.34,13.27 455.07,13.27 455.79,13.27 456.52,13.27 457.24,13.27 457.97,13.27 458.70,13.27 459.42,13.27 460.15,13.26 460.87,13.26 461.60,13.26 462.33,13.26 463.05,13.26 463.78,13.26 464.50,13.26 465.23,13.26 465.96,13.26 466.68,13.26 467.41,13.26 468.13,13.26 468.86,13.26 469.59,13.26 470.31,13.26 471.04,13.26 471.76,13.26 472.49,13.26 473.22,13.26 473.94,13.26 474.67,13.26 475.39,13.26 476.12,13.26 476.85,13.26 477.57,13.26 478.30,13.26 479.02,13.26 479.75,13.26 480.47,13.26 481.20,13.25 481.93,13.25 482.65,13.25 483.38,13.25 484.10,13.25 484.83,13.25 485.56,13.25 486.28,13.25 487.01,13.25 487.73,13.25 488.46,13.25 489.19,13.25 489.91,13.25 490.64,13.25 491.36,13.25 492.09,13.25 492.82,13.25 493.54,13.25 494.27,13.25 494.99,13.25 495.72,13.25 496.45,13.25 497.17,13.25 497.90,13.25 498.62,13.25 499.35,13.25 500.08,13.25 500.80,13.25 501.53,13.25 502.25,13.25 502.98,13.25 503.70,13.25 504.43,13.25 505.16,13.25 505.88,13.25 506.61,13.25 507.33,13.25 508.06,13.25 508.79,13.25 509.51,13.25 510.24,13.25 510.96,13.25 511.69,13.25 512.42,13.25 513.14,13.25 513.87,13.25 514.59,13.25 515.32,13.25 516.05,13.25 516.77,13.25 517.50,13.25 518.22,13.25 518.95,13.25 519.68,13.25 520.40,13.25 521.13,13.25 521.85,13.25 522.58,13.25 523.31,13.25 524.03,13.25 524.76,13.25 525.48,13.25 526.21,13.25 526.93,13.25 527.66,13.25 528.39,13.25 529.11,13.25 529.84,13.25 530.56,13.25 531.29,13.25 532.02,13.25 532.74,13.25 533.47,13.25 534.19,13.25 534.92,13.25 535.65,13.25 536.37,13.25 537.10,13.25 537.82,13.25 538.55,13.25 537.55,13.25" stroke="#ff7f00"/>
</g>
<path d="M52.15 13.25V373.75H532.55V13.25Z" stroke="#000000" stroke-opacity="0.78" stroke-width="1.1" fill="none"/>
<path d="M82.17 373.75v-4.8M112.20 373.75v-9.6M142.23 373.75v-4.8M172.25 373.75v-9.6M202.28 373.75v-4.8M232.30 373.75v-9.6M262.32 373.75v-4.8M292.35 373.75v-9.6M322.38 373.75v-4.8M352.40 373.75v-9.6M382.43 373.75v-4.8M412.45 373.75v-9.6M442.47 373.75v-4.8M472.50 373.75v-9.6M502.52 373.75v-4.8M52.15 355.73h4.8M52.15 337.70h9.6M52.15 319.68h4.8M52.15 301.65h9.6M52.15 283.62h4.8M52.15 265.60h9.6M52.15 247.57h4.8M52.15 229.55h9.6M52.15 211.53h4.8M52.15 193.50h9.6M52.15 175.47h4.8M52.15 157.45h9.6M52.15 139.42h4.8M52.15 121.40h9.6M52.15 103.38h4.8M52.15 85.35h9.6M52.15 67.32h4.8M52.15 49.30h9.6M52.15 31.27h4.8" stroke="#262626" stroke-width="1" fill="none"/>
<rect x="406.3" y="43.6" width="112.7" height="103.1" fill="#fff" stroke="#444444" stroke-width="1.25"/><path d="M412.8 55.90H432.6" stroke="#e41a1c" stroke-width="1.6"/><path d="M412.8 75.60H432.6" stroke="#377eb8" stroke-width="1.6"/><path d="M412.8 95.30H432.6" stroke="#4daf4a" stroke-width="1.6"/><path d="M412.8 115.00H432.6" stroke="#984ea3" stroke-width="1.6"/><path d="M412.8 134.70H432.6" stroke="#ff7f00" stroke-width="1.6"/>
<g class="t"><text transform="translate(52.15,389.70) scale(1,1.044)" text-anchor="middle">0</text><text transform="translate(112.20,389.70) scale(1,1.044)" text-anchor="middle">0.2</text><text transform="translate(172.25,389.70) scale(1,1.044)" text-anchor="middle">0.4</text><text transform="translate(232.30,389.70) scale(1,1.044)" text-anchor="middle">0.6</text><text transform="translate(292.35,389.70) scale(1,1.044)" text-anchor="middle">0.8</text><text transform="translate(352.40,389.70) scale(1,1.044)" text-anchor="middle">1.0</text><text transform="translate(412.45,389.70) scale(1,1.044)" text-anchor="middle">1.2</text><text transform="translate(472.50,389.70) scale(1,1.044)" text-anchor="middle">1.4</text><text transform="translate(532.55,389.70) scale(1,1.044)" text-anchor="middle">1.6</text><text transform="translate(47.60,378.65) scale(1,1.044)" text-anchor="end">0</text><text transform="translate(47.60,342.60) scale(1,1.044)" text-anchor="end">0.1</text><text transform="translate(47.60,306.55) scale(1,1.044)" text-anchor="end">0.2</text><text transform="translate(47.60,270.50) scale(1,1.044)" text-anchor="end">0.3</text><text transform="translate(47.60,234.45) scale(1,1.044)" text-anchor="end">0.4</text><text transform="translate(47.60,198.40) scale(1,1.044)" text-anchor="end">0.5</text><text transform="translate(47.60,162.35) scale(1,1.044)" text-anchor="end">0.6</text><text transform="translate(47.60,126.30) scale(1,1.044)" text-anchor="end">0.7</text><text transform="translate(47.60,90.25) scale(1,1.044)" text-anchor="end">0.8</text><text transform="translate(47.60,54.20) scale(1,1.044)" text-anchor="end">0.9</text><text transform="translate(47.60,18.15) scale(1,1.044)" text-anchor="end">1.0</text><text transform="translate(292.30,402.80) scale(1,1.044)" text-anchor="middle">Position errors(m)</text><text transform="translate(18.8,192.7) rotate(-90) scale(1,1.044)" text-anchor="middle">Probability</text><text transform="translate(439.00,60.50) scale(1,1.044)" text-anchor="start">SICI(CV)</text><text transform="translate(439.00,80.20) scale(1,1.044)" text-anchor="start">SICI(CT)</text><text transform="translate(439.00,99.90) scale(1,1.044)" text-anchor="start">BICI(CV)</text><text transform="translate(439.00,119.60) scale(1,1.044)" text-anchor="start">BICI(CT)</text><text transform="translate(439.00,139.30) scale(1,1.044)" text-anchor="start">BICI_IMM</text></g></svg>
</body></html>
